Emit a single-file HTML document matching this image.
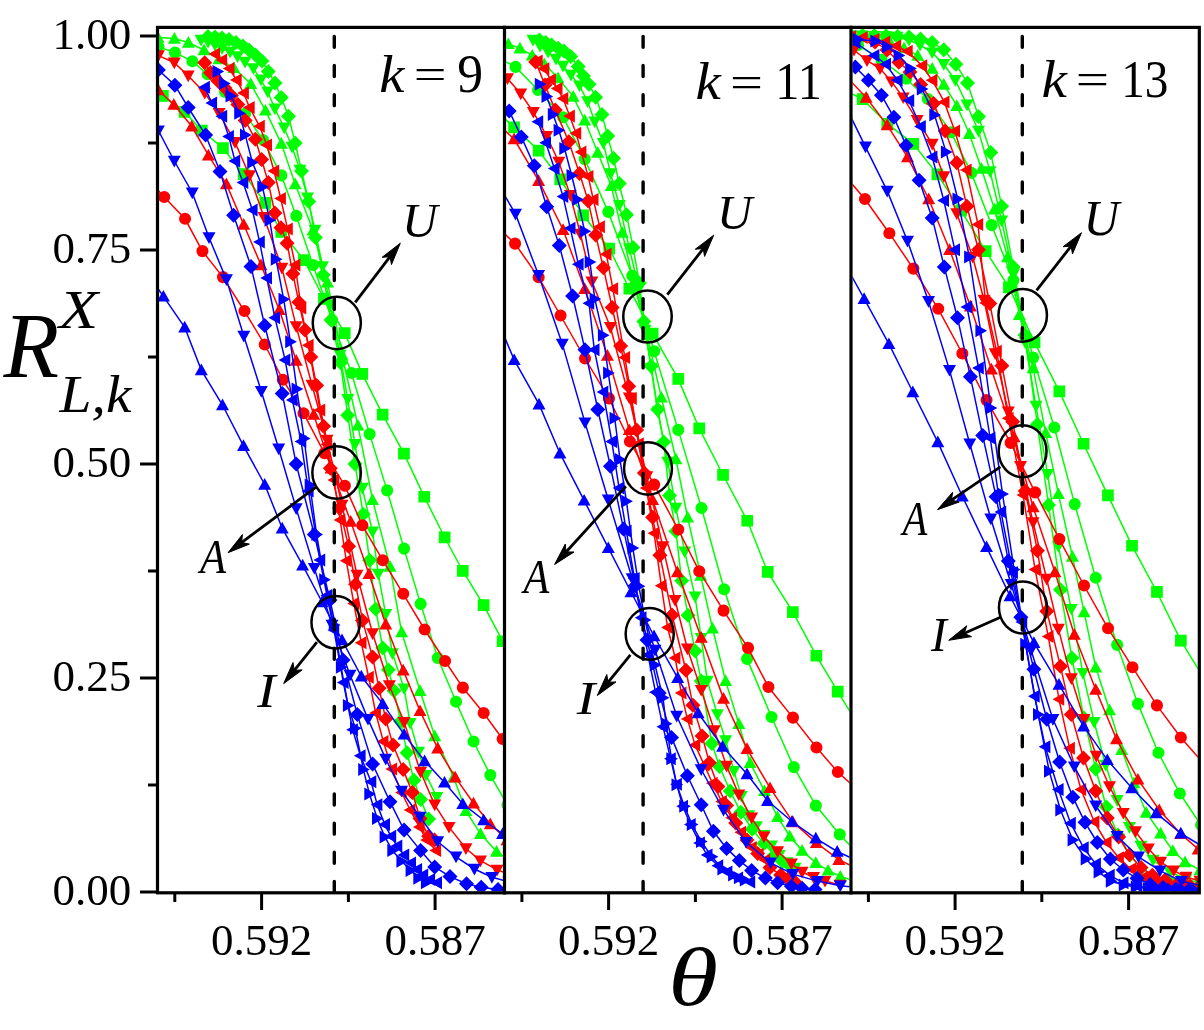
<!DOCTYPE html><html><head><meta charset="utf-8"><style>html,body{margin:0;padding:0;background:#fff;}svg{display:block;}</style></head><body>
<svg width="1204" height="1030" viewBox="0 0 1204 1030">
<rect width="100%" height="100%" fill="#fff"/>
<defs>
<clipPath id="c0"><rect x="159.0" y="28.9" width="344.0" height="862.4"/></clipPath>
<clipPath id="c1"><rect x="506.0" y="28.9" width="343.5" height="862.4"/></clipPath>
<clipPath id="c2"><rect x="852.5" y="28.9" width="345.29999999999995" height="862.4"/></clipPath>
</defs>
<g clip-path="url(#c0)" fill="#00ff00">
<path d="M142.5 84.0 162.8 95.9 184.5 111.8 201.8 130.6 222.9 148.0 243.7 174.0 265.4 202.9 281.3 231.8 304.0 260.0 324.0 299.0 344.8 333.1 362.3 373.9 382.7 414.6 404.0 453.7 424.3 496.8 444.7 537.5 462.8 571.0 483.6 605.1 502.6 641.2 522.0 675.0" fill="none" stroke="#00ff00" stroke-width="1.5"/>
<path d="M136.7 78.2h11.7v11.7h-11.7zM157.0 90.1h11.7v11.7h-11.7zM178.7 106.0h11.7v11.7h-11.7zM196.0 124.8h11.7v11.7h-11.7zM217.1 142.2h11.7v11.7h-11.7zM237.8 168.2h11.7v11.7h-11.7zM259.5 197.1h11.7v11.7h-11.7zM275.4 226.0h11.7v11.7h-11.7zM298.1 254.2h11.7v11.7h-11.7zM318.1 293.1h11.7v11.7h-11.7zM338.9 327.2h11.7v11.7h-11.7zM356.4 368.0h11.7v11.7h-11.7zM376.8 408.8h11.7v11.7h-11.7zM398.1 447.8h11.7v11.7h-11.7zM418.4 490.9h11.7v11.7h-11.7zM438.8 531.6h11.7v11.7h-11.7zM456.9 565.1h11.7v11.7h-11.7zM477.8 599.2h11.7v11.7h-11.7zM496.8 635.4h11.7v11.7h-11.7zM516.1 669.1h11.7v11.7h-11.7z"/>
<path d="M140.9 42.0 158.4 46.8 174.9 52.6 192.3 61.2 207.6 74.2 225.0 92.0 245.0 113.7 263.0 140.0 281.3 175.4 296.3 215.9 313.0 265.0 332.0 320.0 351.5 373.0 369.6 434.1 387.1 490.4 404.0 548.6 420.6 603.9 437.7 658.0 456.0 701.7 473.5 741.5 490.3 775.1 507.5 805.0" fill="none" stroke="#00ff00" stroke-width="1.5"/>
<path d="M134.9 42.0a6.0 6.0 0 1 0 12.1 0a6.0 6.0 0 1 0 -12.1 0zM152.4 46.8a6.0 6.0 0 1 0 12.1 0a6.0 6.0 0 1 0 -12.1 0zM168.9 52.6a6.0 6.0 0 1 0 12.1 0a6.0 6.0 0 1 0 -12.1 0zM186.3 61.2a6.0 6.0 0 1 0 12.1 0a6.0 6.0 0 1 0 -12.1 0zM201.6 74.2a6.0 6.0 0 1 0 12.1 0a6.0 6.0 0 1 0 -12.1 0zM219.0 92.0a6.0 6.0 0 1 0 12.1 0a6.0 6.0 0 1 0 -12.1 0zM239.0 113.7a6.0 6.0 0 1 0 12.1 0a6.0 6.0 0 1 0 -12.1 0zM257.0 140.0a6.0 6.0 0 1 0 12.1 0a6.0 6.0 0 1 0 -12.1 0zM275.3 175.4a6.0 6.0 0 1 0 12.1 0a6.0 6.0 0 1 0 -12.1 0zM290.3 215.9a6.0 6.0 0 1 0 12.1 0a6.0 6.0 0 1 0 -12.1 0zM307.0 265.0a6.0 6.0 0 1 0 12.1 0a6.0 6.0 0 1 0 -12.1 0zM326.0 320.0a6.0 6.0 0 1 0 12.1 0a6.0 6.0 0 1 0 -12.1 0zM345.5 373.0a6.0 6.0 0 1 0 12.1 0a6.0 6.0 0 1 0 -12.1 0zM363.6 434.1a6.0 6.0 0 1 0 12.1 0a6.0 6.0 0 1 0 -12.1 0zM381.1 490.4a6.0 6.0 0 1 0 12.1 0a6.0 6.0 0 1 0 -12.1 0zM398.0 548.6a6.0 6.0 0 1 0 12.1 0a6.0 6.0 0 1 0 -12.1 0zM414.6 603.9a6.0 6.0 0 1 0 12.1 0a6.0 6.0 0 1 0 -12.1 0zM431.7 658.0a6.0 6.0 0 1 0 12.1 0a6.0 6.0 0 1 0 -12.1 0zM450.0 701.7a6.0 6.0 0 1 0 12.1 0a6.0 6.0 0 1 0 -12.1 0zM467.5 741.5a6.0 6.0 0 1 0 12.1 0a6.0 6.0 0 1 0 -12.1 0zM484.3 775.1a6.0 6.0 0 1 0 12.1 0a6.0 6.0 0 1 0 -12.1 0zM501.5 805.0a6.0 6.0 0 1 0 12.1 0a6.0 6.0 0 1 0 -12.1 0z"/>
<path d="M142.0 37.0 158.0 37.5 174.4 38.5 188.4 42.5 204.0 50.0 219.0 59.0 233.8 67.9 250.7 83.8 265.4 110.4 281.3 143.6 295.2 184.1 313.0 230.3 327.5 282.3 342.0 355.0 357.9 425.4 372.5 499.7 390.0 566.6 401.6 632.0 420.0 690.7 434.7 736.0 453.6 777.2 465.9 810.9 480.5 833.8 496.5 851.6 512.0 862.0" fill="none" stroke="#00ff00" stroke-width="1.5"/>
<path d="M142.0 30.5L148.5 42.2L135.5 42.2zM158.0 31.0L164.5 42.7L151.5 42.7zM174.4 32.0L180.9 43.7L167.9 43.7zM188.4 36.0L194.9 47.7L181.9 47.7zM204.0 43.5L210.5 55.2L197.5 55.2zM219.0 52.5L225.5 64.2L212.5 64.2zM233.8 61.4L240.3 73.1L227.3 73.1zM250.7 77.3L257.2 89.0L244.2 89.0zM265.4 103.9L271.9 115.6L258.9 115.6zM281.3 137.1L287.8 148.8L274.8 148.8zM295.2 177.6L301.7 189.3L288.7 189.3zM313.0 223.8L319.5 235.5L306.5 235.5zM327.5 275.8L334.0 287.5L321.0 287.5zM342.0 348.5L348.5 360.2L335.5 360.2zM357.9 418.9L364.4 430.6L351.4 430.6zM372.5 493.2L379.0 504.9L366.0 504.9zM390.0 560.1L396.5 571.8L383.5 571.8zM401.6 625.5L408.1 637.2L395.1 637.2zM420.0 684.2L426.5 695.9L413.5 695.9zM434.7 729.5L441.2 741.2L428.2 741.2zM453.6 770.7L460.1 782.4L447.1 782.4zM465.9 804.4L472.4 816.1L459.4 816.1zM480.5 827.3L487.0 839.0L474.0 839.0zM496.5 845.1L503.0 856.8L490.0 856.8zM512.0 855.5L518.5 867.2L505.5 867.2z"/>
<path d="M201.0 40.0 208.0 42.0 215.0 45.0 222.0 48.5 230.0 52.0 237.5 56.5 245.0 62.0 253.4 68.4 260.9 79.8 267.7 91.8 274.9 108.8 284.2 127.7 292.1 147.0 300.0 170.0 307.5 197.7 315.0 230.0 322.5 266.5 330.0 305.0 340.0 355.0 347.7 399.2 355.0 444.3 362.3 488.0 372.5 531.7 378.3 573.9 385.7 614.3 392.5 653.4 404.1 688.6 410.2 723.1 418.5 751.9 426.1 775.1 436.8 797.1" fill="none" stroke="#00ff00" stroke-width="1.5"/>
<path d="M201.0 46.5L207.5 34.8L194.5 34.8zM208.0 48.5L214.5 36.8L201.5 36.8zM215.0 51.5L221.5 39.8L208.5 39.8zM222.0 55.0L228.5 43.3L215.5 43.3zM230.0 58.5L236.5 46.8L223.5 46.8zM237.5 63.0L244.0 51.3L231.0 51.3zM245.0 68.5L251.5 56.8L238.5 56.8zM253.4 74.9L259.9 63.2L246.9 63.2zM260.9 86.3L267.4 74.6L254.4 74.6zM267.7 98.3L274.2 86.6L261.2 86.6zM274.9 115.3L281.4 103.6L268.4 103.6zM284.2 134.2L290.7 122.5L277.7 122.5zM292.1 153.5L298.6 141.8L285.6 141.8zM300.0 176.5L306.5 164.8L293.5 164.8zM307.5 204.2L314.0 192.5L301.0 192.5zM315.0 236.5L321.5 224.8L308.5 224.8zM322.5 273.0L329.0 261.3L316.0 261.3zM330.0 311.5L336.5 299.8L323.5 299.8zM340.0 361.5L346.5 349.8L333.5 349.8zM347.7 405.7L354.2 394.0L341.2 394.0zM355.0 450.8L361.5 439.1L348.5 439.1zM362.3 494.5L368.8 482.8L355.8 482.8zM372.5 538.2L379.0 526.5L366.0 526.5zM378.3 580.4L384.8 568.7L371.8 568.7zM385.7 620.8L392.2 609.1L379.2 609.1zM392.5 659.9L399.0 648.2L386.0 648.2zM404.1 695.1L410.6 683.4L397.6 683.4zM410.2 729.6L416.7 717.9L403.7 717.9zM418.5 758.4L425.0 746.7L412.0 746.7zM426.1 781.6L432.6 769.9L419.6 769.9zM436.8 803.6L443.3 791.9L430.3 791.9z"/>
<path d="M208.0 36.5 215.0 37.0 222.0 38.0 229.0 39.5 236.0 42.5 243.0 46.0 249.0 50.0 255.5 55.0 261.9 60.9 268.3 71.4 275.0 83.0 281.3 97.4 288.5 116.2 295.2 143.0 301.5 171.0 308.7 201.4 315.4 237.5 323.2 275.0 331.0 320.0 340.5 362.8 347.7 415.2 355.0 464.1 363.2 514.2 369.6 560.2 375.7 609.0 382.7 647.9 388.4 669.8 394.0 690.7 400.6 721.5 407.1 752.8 413.9 780.3 420.6 799.6 428.6 819.1" fill="none" stroke="#00ff00" stroke-width="1.5"/>
<path d="M208.0 29.0L215.5 36.5L208.0 44.0L200.5 36.5zM215.0 29.5L222.5 37.0L215.0 44.5L207.5 37.0zM222.0 30.5L229.5 38.0L222.0 45.5L214.5 38.0zM229.0 32.0L236.5 39.5L229.0 47.0L221.5 39.5zM236.0 35.0L243.5 42.5L236.0 50.0L228.5 42.5zM243.0 38.5L250.5 46.0L243.0 53.5L235.5 46.0zM249.0 42.5L256.5 50.0L249.0 57.5L241.5 50.0zM255.5 47.5L263.0 55.0L255.5 62.5L248.0 55.0zM261.9 53.4L269.4 60.9L261.9 68.4L254.4 60.9zM268.3 63.9L275.8 71.4L268.3 78.9L260.8 71.4zM275.0 75.5L282.5 83.0L275.0 90.5L267.5 83.0zM281.3 89.9L288.8 97.4L281.3 104.9L273.8 97.4zM288.5 108.7L296.0 116.2L288.5 123.7L281.0 116.2zM295.2 135.5L302.7 143.0L295.2 150.5L287.7 143.0zM301.5 163.5L309.0 171.0L301.5 178.5L294.0 171.0zM308.7 193.9L316.2 201.4L308.7 208.9L301.2 201.4zM315.4 230.0L322.9 237.5L315.4 245.0L307.9 237.5zM323.2 267.5L330.7 275.0L323.2 282.5L315.7 275.0zM331.0 312.5L338.5 320.0L331.0 327.5L323.5 320.0zM340.5 355.3L348.0 362.8L340.5 370.3L333.0 362.8zM347.7 407.7L355.2 415.2L347.7 422.7L340.2 415.2zM355.0 456.6L362.5 464.1L355.0 471.6L347.5 464.1zM363.2 506.7L370.7 514.2L363.2 521.7L355.7 514.2zM369.6 552.7L377.1 560.2L369.6 567.7L362.1 560.2zM375.7 601.5L383.2 609.0L375.7 616.5L368.2 609.0zM382.7 640.4L390.2 647.9L382.7 655.4L375.2 647.9zM388.4 662.4L395.8 669.8L388.4 677.3L380.9 669.8zM394.0 683.2L401.5 690.7L394.0 698.2L386.5 690.7zM400.6 714.1L408.0 721.5L400.6 729.0L393.1 721.5zM407.1 745.3L414.6 752.8L407.1 760.3L399.6 752.8zM413.9 772.8L421.4 780.3L413.9 787.8L406.4 780.3zM420.6 792.1L428.1 799.6L420.6 807.1L413.1 799.6zM428.6 811.6L436.1 819.1L428.6 826.6L421.1 819.1z"/>
</g>
<g clip-path="url(#c1)" fill="#00ff00">
<path d="M491.0 106.0 514.1 127.4 538.6 150.5 560.2 179.3 583.3 215.3 609.2 248.5 629.4 288.8 652.6 333.7 678.2 378.9 699.2 428.4 723.1 475.0 747.3 520.8 767.7 572.0 792.9 612.1 816.4 655.8 837.8 691.6 860.0 728.0" fill="none" stroke="#00ff00" stroke-width="1.5"/>
<path d="M485.1 100.2h11.7v11.7h-11.7zM508.2 121.6h11.7v11.7h-11.7zM532.8 144.7h11.7v11.7h-11.7zM554.4 173.5h11.7v11.7h-11.7zM577.4 209.5h11.7v11.7h-11.7zM603.4 242.7h11.7v11.7h-11.7zM623.5 282.9h11.7v11.7h-11.7zM646.8 327.8h11.7v11.7h-11.7zM672.4 373.0h11.7v11.7h-11.7zM693.4 422.5h11.7v11.7h-11.7zM717.2 469.1h11.7v11.7h-11.7zM741.4 514.9h11.7v11.7h-11.7zM761.9 566.1h11.7v11.7h-11.7zM787.0 606.2h11.7v11.7h-11.7zM810.5 649.9h11.7v11.7h-11.7zM831.9 685.8h11.7v11.7h-11.7zM854.1 722.1h11.7v11.7h-11.7z"/>
<path d="M492.5 55.0 515.5 66.9 538.0 90.0 563.1 117.3 584.7 159.1 608.3 211.9 632.2 275.8 654.1 351.2 678.2 429.9 701.5 508.0 724.1 589.2 747.0 658.9 771.5 717.0 793.8 767.1 815.8 805.6 839.7 834.4 862.0 858.0" fill="none" stroke="#00ff00" stroke-width="1.5"/>
<path d="M486.5 55.0a6.0 6.0 0 1 0 12.1 0a6.0 6.0 0 1 0 -12.1 0zM509.5 66.9a6.0 6.0 0 1 0 12.1 0a6.0 6.0 0 1 0 -12.1 0zM532.0 90.0a6.0 6.0 0 1 0 12.1 0a6.0 6.0 0 1 0 -12.1 0zM557.1 117.3a6.0 6.0 0 1 0 12.1 0a6.0 6.0 0 1 0 -12.1 0zM578.7 159.1a6.0 6.0 0 1 0 12.1 0a6.0 6.0 0 1 0 -12.1 0zM602.3 211.9a6.0 6.0 0 1 0 12.1 0a6.0 6.0 0 1 0 -12.1 0zM626.2 275.8a6.0 6.0 0 1 0 12.1 0a6.0 6.0 0 1 0 -12.1 0zM648.1 351.2a6.0 6.0 0 1 0 12.1 0a6.0 6.0 0 1 0 -12.1 0zM672.2 429.9a6.0 6.0 0 1 0 12.1 0a6.0 6.0 0 1 0 -12.1 0zM695.5 508.0a6.0 6.0 0 1 0 12.1 0a6.0 6.0 0 1 0 -12.1 0zM718.1 589.2a6.0 6.0 0 1 0 12.1 0a6.0 6.0 0 1 0 -12.1 0zM741.0 658.9a6.0 6.0 0 1 0 12.1 0a6.0 6.0 0 1 0 -12.1 0zM765.5 717.0a6.0 6.0 0 1 0 12.1 0a6.0 6.0 0 1 0 -12.1 0zM787.8 767.1a6.0 6.0 0 1 0 12.1 0a6.0 6.0 0 1 0 -12.1 0zM809.8 805.6a6.0 6.0 0 1 0 12.1 0a6.0 6.0 0 1 0 -12.1 0zM833.7 834.4a6.0 6.0 0 1 0 12.1 0a6.0 6.0 0 1 0 -12.1 0zM856.0 858.0a6.0 6.0 0 1 0 12.1 0a6.0 6.0 0 1 0 -12.1 0z"/>
<path d="M496.0 40.0 508.3 43.9 519.9 48.2 532.2 55.4 544.3 64.0 558.0 78.0 573.2 96.6 584.7 120.2 597.7 152.5 611.2 185.9 622.2 232.6 633.7 281.6 647.0 335.0 661.3 397.2 675.9 459.0 687.6 517.3 700.7 575.5 712.5 628.3 725.6 680.9 738.8 723.7 750.1 762.8 764.5 790.9 777.6 816.9 789.8 836.2 802.1 850.6 815.8 862.8 828.1 870.4 840.3 876.5 855.0 881.0" fill="none" stroke="#00ff00" stroke-width="1.5"/>
<path d="M496.0 33.5L502.5 45.2L489.5 45.2zM508.3 37.4L514.8 49.1L501.8 49.1zM519.9 41.7L526.4 53.4L513.4 53.4zM532.2 48.9L538.7 60.6L525.7 60.6zM544.3 57.5L550.8 69.2L537.8 69.2zM558.0 71.5L564.5 83.2L551.5 83.2zM573.2 90.1L579.7 101.8L566.7 101.8zM584.7 113.7L591.2 125.4L578.2 125.4zM597.7 146.0L604.2 157.7L591.2 157.7zM611.2 179.4L617.7 191.1L604.7 191.1zM622.2 226.1L628.7 237.8L615.7 237.8zM633.7 275.1L640.2 286.8L627.2 286.8zM647.0 328.5L653.5 340.2L640.5 340.2zM661.3 390.7L667.8 402.4L654.8 402.4zM675.9 452.5L682.4 464.2L669.4 464.2zM687.6 510.8L694.1 522.5L681.1 522.5zM700.7 569.0L707.2 580.7L694.2 580.7zM712.5 621.8L719.0 633.5L706.0 633.5zM725.6 674.4L732.1 686.1L719.1 686.1zM738.8 717.2L745.3 728.9L732.3 728.9zM750.1 756.3L756.6 768.0L743.6 768.0zM764.5 784.4L771.0 796.1L758.0 796.1zM777.6 810.4L784.1 822.1L771.1 822.1zM789.8 829.7L796.3 841.4L783.3 841.4zM802.1 844.1L808.6 855.8L795.6 855.8zM815.8 856.3L822.3 868.0L809.3 868.0zM828.1 863.9L834.6 875.6L821.6 875.6zM840.3 870.0L846.8 881.7L833.8 881.7zM855.0 874.5L861.5 886.2L848.5 886.2z"/>
<path d="M533.0 40.0 540.0 46.0 548.0 52.0 556.0 59.0 563.0 66.0 571.0 75.0 579.5 85.6 587.6 101.5 594.8 121.7 603.4 143.3 610.6 173.5 619.3 205.2 629.4 248.5 638.9 288.8 645.0 330.0 651.1 368.1 657.8 411.8 667.8 461.9 675.9 507.9 684.7 551.7 695.1 596.8 701.2 638.1 707.3 680.9 717.4 714.5 725.6 740.5 733.9 771.1 741.2 796.1 748.6 815.4 756.2 826.4 763.9 835.3 771.5 845.8 779.2 855.1 787.1 862.4 795.0 868.0" fill="none" stroke="#00ff00" stroke-width="1.5"/>
<path d="M533.0 46.5L539.5 34.8L526.5 34.8zM540.0 52.5L546.5 40.8L533.5 40.8zM548.0 58.5L554.5 46.8L541.5 46.8zM556.0 65.5L562.5 53.8L549.5 53.8zM563.0 72.5L569.5 60.8L556.5 60.8zM571.0 81.5L577.5 69.8L564.5 69.8zM579.5 92.1L586.0 80.4L573.0 80.4zM587.6 108.0L594.1 96.3L581.1 96.3zM594.8 128.2L601.3 116.5L588.3 116.5zM603.4 149.8L609.9 138.1L596.9 138.1zM610.6 180.0L617.1 168.3L604.1 168.3zM619.3 211.7L625.8 200.0L612.8 200.0zM629.4 255.0L635.9 243.3L622.9 243.3zM638.9 295.3L645.4 283.6L632.4 283.6zM645.0 336.5L651.5 324.8L638.5 324.8zM651.1 374.6L657.6 362.9L644.6 362.9zM657.8 418.3L664.3 406.6L651.3 406.6zM667.8 468.4L674.3 456.7L661.3 456.7zM675.9 514.4L682.4 502.7L669.4 502.7zM684.7 558.2L691.2 546.5L678.2 546.5zM695.1 603.3L701.6 591.6L688.6 591.6zM701.2 644.6L707.7 632.9L694.7 632.9zM707.3 687.4L713.8 675.7L700.8 675.7zM717.4 721.0L723.9 709.3L710.9 709.3zM725.6 747.0L732.1 735.3L719.1 735.3zM733.9 777.6L740.4 765.9L727.4 765.9zM741.2 802.6L747.8 790.9L734.8 790.9zM748.6 821.9L755.1 810.2L742.1 810.2zM756.2 832.9L762.8 821.2L749.8 821.2zM763.9 841.8L770.4 830.1L757.4 830.1zM771.5 852.3L778.0 840.6L765.0 840.6zM779.2 861.6L785.7 849.9L772.7 849.9zM787.1 868.9L793.6 857.2L780.6 857.2zM795.0 874.5L801.5 862.8L788.5 862.8z"/>
<path d="M539.5 40.0 545.8 42.5 551.6 45.0 558.2 48.3 564.0 51.0 570.7 56.6 578.2 66.5 583.5 76.0 589.0 84.2 595.6 97.2 602.0 114.5 607.7 136.1 613.5 158.3 619.3 183.6 626.5 214.7 633.1 247.6 639.4 283.0 643.9 321.5 651.1 366.3 657.8 409.5 663.7 442.1 669.5 495.4 675.9 531.3 681.7 580.8 688.0 615.2 695.1 650.9 701.2 680.9 711.9 743.6 719.5 766.5 730.2 791.0 740.9 812.3 752.2 829.2 763.9 843.5 774.6 855.1 782.3 861.3 790.0 866.0" fill="none" stroke="#00ff00" stroke-width="1.5"/>
<path d="M539.5 32.5L547.0 40.0L539.5 47.5L532.0 40.0zM545.8 35.0L553.3 42.5L545.8 50.0L538.3 42.5zM551.6 37.5L559.1 45.0L551.6 52.5L544.1 45.0zM558.2 40.8L565.7 48.3L558.2 55.8L550.7 48.3zM564.0 43.5L571.5 51.0L564.0 58.5L556.5 51.0zM570.7 49.1L578.2 56.6L570.7 64.1L563.2 56.6zM578.2 59.0L585.7 66.5L578.2 74.0L570.7 66.5zM583.5 68.5L591.0 76.0L583.5 83.5L576.0 76.0zM589.0 76.7L596.5 84.2L589.0 91.7L581.5 84.2zM595.6 89.7L603.1 97.2L595.6 104.7L588.1 97.2zM602.0 107.0L609.5 114.5L602.0 122.0L594.5 114.5zM607.7 128.6L615.2 136.1L607.7 143.6L600.2 136.1zM613.5 150.8L621.0 158.3L613.5 165.8L606.0 158.3zM619.3 176.1L626.8 183.6L619.3 191.1L611.8 183.6zM626.5 207.2L634.0 214.7L626.5 222.2L619.0 214.7zM633.1 240.1L640.6 247.6L633.1 255.1L625.6 247.6zM639.4 275.5L646.9 283.0L639.4 290.5L631.9 283.0zM643.9 314.0L651.4 321.5L643.9 329.0L636.4 321.5zM651.1 358.8L658.6 366.3L651.1 373.8L643.6 366.3zM657.8 402.0L665.3 409.5L657.8 417.0L650.3 409.5zM663.7 434.6L671.2 442.1L663.7 449.6L656.2 442.1zM669.5 487.9L677.0 495.4L669.5 502.9L662.0 495.4zM675.9 523.8L683.4 531.3L675.9 538.8L668.4 531.3zM681.7 573.3L689.2 580.8L681.7 588.3L674.2 580.8zM688.0 607.7L695.5 615.2L688.0 622.7L680.5 615.2zM695.1 643.4L702.6 650.9L695.1 658.4L687.6 650.9zM701.2 673.4L708.7 680.9L701.2 688.4L693.7 680.9zM711.9 736.1L719.4 743.6L711.9 751.1L704.4 743.6zM719.5 759.0L727.0 766.5L719.5 774.0L712.0 766.5zM730.2 783.5L737.7 791.0L730.2 798.5L722.7 791.0zM740.9 804.8L748.4 812.3L740.9 819.8L733.4 812.3zM752.2 821.7L759.7 829.2L752.2 836.7L744.7 829.2zM763.9 836.0L771.4 843.5L763.9 851.0L756.4 843.5zM774.6 847.6L782.1 855.1L774.6 862.6L767.1 855.1zM782.3 853.8L789.8 861.3L782.3 868.8L774.8 861.3zM790.0 858.5L797.5 866.0L790.0 873.5L782.5 866.0z"/>
</g>
<g clip-path="url(#c2)" fill="#00ff00">
<path d="M838.0 87.0 862.6 99.0 887.2 123.7 913.3 143.9 937.4 174.4 961.1 210.6 985.8 251.2 1009.0 287.4 1034.5 342.4 1059.3 391.4 1083.5 443.8 1107.9 495.4 1132.1 545.8 1156.9 592.0 1180.8 640.6 1205.0 680.0" fill="none" stroke="#00ff00" stroke-width="1.5"/>
<path d="M832.1 81.2h11.7v11.7h-11.7zM856.8 93.2h11.7v11.7h-11.7zM881.4 117.9h11.7v11.7h-11.7zM907.4 138.1h11.7v11.7h-11.7zM931.5 168.6h11.7v11.7h-11.7zM955.2 204.8h11.7v11.7h-11.7zM979.9 245.3h11.7v11.7h-11.7zM1003.1 281.5h11.7v11.7h-11.7zM1028.7 336.5h11.7v11.7h-11.7zM1053.5 385.5h11.7v11.7h-11.7zM1077.7 437.9h11.7v11.7h-11.7zM1102.1 489.5h11.7v11.7h-11.7zM1126.2 539.9h11.7v11.7h-11.7zM1151.1 586.1h11.7v11.7h-11.7zM1175.0 634.8h11.7v11.7h-11.7zM1199.2 674.1h11.7v11.7h-11.7z"/>
<path d="M858.0 45.0 881.4 59.9 906.1 78.7 927.8 99.0 951.0 132.3 971.3 172.9 991.6 225.1 1013.3 280.2 1033.1 357.6 1054.3 427.5 1074.7 504.1 1095.7 577.8 1117.1 644.9 1137.9 703.9 1158.4 752.8 1179.8 793.5 1201.0 825.0" fill="none" stroke="#00ff00" stroke-width="1.5"/>
<path d="M852.0 45.0a6.0 6.0 0 1 0 12.1 0a6.0 6.0 0 1 0 -12.1 0zM875.4 59.9a6.0 6.0 0 1 0 12.1 0a6.0 6.0 0 1 0 -12.1 0zM900.1 78.7a6.0 6.0 0 1 0 12.1 0a6.0 6.0 0 1 0 -12.1 0zM921.8 99.0a6.0 6.0 0 1 0 12.1 0a6.0 6.0 0 1 0 -12.1 0zM945.0 132.3a6.0 6.0 0 1 0 12.1 0a6.0 6.0 0 1 0 -12.1 0zM965.3 172.9a6.0 6.0 0 1 0 12.1 0a6.0 6.0 0 1 0 -12.1 0zM985.6 225.1a6.0 6.0 0 1 0 12.1 0a6.0 6.0 0 1 0 -12.1 0zM1007.3 280.2a6.0 6.0 0 1 0 12.1 0a6.0 6.0 0 1 0 -12.1 0zM1027.1 357.6a6.0 6.0 0 1 0 12.1 0a6.0 6.0 0 1 0 -12.1 0zM1048.3 427.5a6.0 6.0 0 1 0 12.1 0a6.0 6.0 0 1 0 -12.1 0zM1068.7 504.1a6.0 6.0 0 1 0 12.1 0a6.0 6.0 0 1 0 -12.1 0zM1089.7 577.8a6.0 6.0 0 1 0 12.1 0a6.0 6.0 0 1 0 -12.1 0zM1111.1 644.9a6.0 6.0 0 1 0 12.1 0a6.0 6.0 0 1 0 -12.1 0zM1131.9 703.9a6.0 6.0 0 1 0 12.1 0a6.0 6.0 0 1 0 -12.1 0zM1152.4 752.8a6.0 6.0 0 1 0 12.1 0a6.0 6.0 0 1 0 -12.1 0zM1173.8 793.5a6.0 6.0 0 1 0 12.1 0a6.0 6.0 0 1 0 -12.1 0zM1195.0 825.0a6.0 6.0 0 1 0 12.1 0a6.0 6.0 0 1 0 -12.1 0z"/>
<path d="M848.0 35.0 861.0 36.0 875.0 38.0 890.0 42.0 904.0 48.0 917.7 55.5 932.2 68.6 943.8 84.5 956.8 105.7 969.3 133.8 981.4 168.6 994.5 209.2 1007.5 257.0 1019.4 314.8 1033.1 368.1 1045.6 432.7 1058.4 493.9 1072.4 556.5 1084.1 612.1 1095.7 667.2 1109.5 710.0 1121.7 749.8 1134.0 783.0 1146.2 812.5 1160.6 833.3 1172.8 850.7 1185.0 862.0 1200.0 870.0" fill="none" stroke="#00ff00" stroke-width="1.5"/>
<path d="M848.0 28.5L854.5 40.2L841.5 40.2zM861.0 29.5L867.5 41.2L854.5 41.2zM875.0 31.5L881.5 43.2L868.5 43.2zM890.0 35.5L896.5 47.2L883.5 47.2zM904.0 41.5L910.5 53.2L897.5 53.2zM917.7 49.0L924.2 60.7L911.2 60.7zM932.2 62.1L938.7 73.8L925.7 73.8zM943.8 78.0L950.3 89.7L937.3 89.7zM956.8 99.2L963.3 110.9L950.3 110.9zM969.3 127.3L975.8 139.0L962.8 139.0zM981.4 162.1L987.9 173.8L974.9 173.8zM994.5 202.7L1001.0 214.4L988.0 214.4zM1007.5 250.5L1014.0 262.2L1001.0 262.2zM1019.4 308.3L1025.9 320.0L1012.9 320.0zM1033.1 361.6L1039.6 373.3L1026.6 373.3zM1045.6 426.2L1052.1 437.9L1039.1 437.9zM1058.4 487.4L1064.9 499.1L1051.9 499.1zM1072.4 550.0L1078.9 561.7L1065.9 561.7zM1084.1 605.6L1090.6 617.3L1077.6 617.3zM1095.7 660.7L1102.2 672.4L1089.2 672.4zM1109.5 703.5L1116.0 715.2L1103.0 715.2zM1121.7 743.3L1128.2 755.0L1115.2 755.0zM1134.0 776.5L1140.5 788.2L1127.5 788.2zM1146.2 806.0L1152.7 817.7L1139.7 817.7zM1160.6 826.8L1167.1 838.5L1154.1 838.5zM1172.8 844.2L1179.3 855.9L1166.3 855.9zM1185.0 855.5L1191.5 867.2L1178.5 867.2zM1200.0 863.5L1206.5 875.2L1193.5 875.2z"/>
<path d="M851.0 35.6 862.0 35.8 874.0 36.1 886.0 36.5 897.0 37.0 909.0 40.0 920.0 45.0 932.2 52.6 943.8 64.2 955.3 80.2 967.0 104.8 978.5 130.9 990.1 171.5 1001.7 220.8 1013.3 274.4 1025.2 342.4 1036.0 405.9 1047.6 474.1 1058.4 546.3 1071.3 609.1 1082.9 673.3 1094.2 722.2 1105.6 765.0 1117.1 800.3 1129.4 827.2 1141.0 846.0 1153.0 860.0 1170.0 872.0 1186.0 879.0 1200.0 883.0" fill="none" stroke="#00ff00" stroke-width="1.5"/>
<path d="M851.0 42.1L857.5 30.4L844.5 30.4zM862.0 42.3L868.5 30.6L855.5 30.6zM874.0 42.6L880.5 30.9L867.5 30.9zM886.0 43.0L892.5 31.3L879.5 31.3zM897.0 43.5L903.5 31.8L890.5 31.8zM909.0 46.5L915.5 34.8L902.5 34.8zM920.0 51.5L926.5 39.8L913.5 39.8zM932.2 59.1L938.7 47.4L925.7 47.4zM943.8 70.7L950.3 59.0L937.3 59.0zM955.3 86.7L961.8 75.0L948.8 75.0zM967.0 111.3L973.5 99.6L960.5 99.6zM978.5 137.4L985.0 125.7L972.0 125.7zM990.1 178.0L996.6 166.3L983.6 166.3zM1001.7 227.3L1008.2 215.6L995.2 215.6zM1013.3 280.9L1019.8 269.2L1006.8 269.2zM1025.2 348.9L1031.7 337.2L1018.7 337.2zM1036.0 412.4L1042.5 400.7L1029.5 400.7zM1047.6 480.6L1054.1 468.9L1041.1 468.9zM1058.4 552.8L1064.9 541.1L1051.9 541.1zM1071.3 615.6L1077.8 603.9L1064.8 603.9zM1082.9 679.8L1089.4 668.1L1076.4 668.1zM1094.2 728.7L1100.7 717.0L1087.7 717.0zM1105.6 771.5L1112.1 759.8L1099.1 759.8zM1117.1 806.8L1123.6 795.1L1110.6 795.1zM1129.4 833.7L1135.9 822.0L1122.9 822.0zM1141.0 852.5L1147.5 840.8L1134.5 840.8zM1153.0 866.5L1159.5 854.8L1146.5 854.8zM1170.0 878.5L1176.5 866.8L1163.5 866.8zM1186.0 885.5L1192.5 873.8L1179.5 873.8zM1200.0 889.5L1206.5 877.8L1193.5 877.8z"/>
<path d="M851.0 35.5 862.6 35.5 874.3 35.6 886.0 35.9 897.5 36.4 909.0 37.0 920.5 39.0 932.2 42.5 943.8 49.7 955.9 64.2 967.5 83.1 978.5 116.4 990.7 152.6 1001.7 206.3 1013.3 267.1 1025.0 335.0 1037.4 424.6 1048.5 505.0 1060.5 589.8 1071.9 658.0 1084.0 718.0 1095.7 769.0 1106.4 807.0 1118.0 835.0 1130.0 855.0 1141.0 868.0 1153.0 876.0 1170.0 882.0 1186.0 885.0 1200.0 887.0" fill="none" stroke="#00ff00" stroke-width="1.5"/>
<path d="M851.0 28.0L858.5 35.5L851.0 43.0L843.5 35.5zM862.6 28.0L870.1 35.5L862.6 43.0L855.1 35.5zM874.3 28.1L881.8 35.6L874.3 43.1L866.8 35.6zM886.0 28.4L893.5 35.9L886.0 43.4L878.5 35.9zM897.5 28.9L905.0 36.4L897.5 43.9L890.0 36.4zM909.0 29.5L916.5 37.0L909.0 44.5L901.5 37.0zM920.5 31.5L928.0 39.0L920.5 46.5L913.0 39.0zM932.2 35.0L939.7 42.5L932.2 50.0L924.7 42.5zM943.8 42.2L951.3 49.7L943.8 57.2L936.3 49.7zM955.9 56.7L963.4 64.2L955.9 71.7L948.4 64.2zM967.5 75.6L975.0 83.1L967.5 90.6L960.0 83.1zM978.5 108.9L986.0 116.4L978.5 123.9L971.0 116.4zM990.7 145.1L998.2 152.6L990.7 160.1L983.2 152.6zM1001.7 198.8L1009.2 206.3L1001.7 213.8L994.2 206.3zM1013.3 259.6L1020.8 267.1L1013.3 274.6L1005.8 267.1zM1025.0 327.5L1032.5 335.0L1025.0 342.5L1017.5 335.0zM1037.4 417.1L1044.9 424.6L1037.4 432.1L1029.9 424.6zM1048.5 497.5L1056.0 505.0L1048.5 512.5L1041.0 505.0zM1060.5 582.3L1068.0 589.8L1060.5 597.3L1053.0 589.8zM1071.9 650.5L1079.4 658.0L1071.9 665.5L1064.4 658.0zM1084.0 710.5L1091.5 718.0L1084.0 725.5L1076.5 718.0zM1095.7 761.5L1103.2 769.0L1095.7 776.5L1088.2 769.0zM1106.4 799.5L1113.9 807.0L1106.4 814.5L1098.9 807.0zM1118.0 827.5L1125.5 835.0L1118.0 842.5L1110.5 835.0zM1130.0 847.5L1137.5 855.0L1130.0 862.5L1122.5 855.0zM1141.0 860.5L1148.5 868.0L1141.0 875.5L1133.5 868.0zM1153.0 868.5L1160.5 876.0L1153.0 883.5L1145.5 876.0zM1170.0 874.5L1177.5 882.0L1170.0 889.5L1162.5 882.0zM1186.0 877.5L1193.5 885.0L1186.0 892.5L1178.5 885.0zM1200.0 879.5L1207.5 887.0L1200.0 894.5L1192.5 887.0z"/>
</g>
<g clip-path="url(#c0)" fill="#ff0000">
<path d="M144.0 175.0 164.2 197.0 185.0 218.8 202.4 251.1 222.9 277.1 244.4 311.0 264.7 344.5 282.8 379.7 303.5 413.2 324.4 453.1 344.8 485.7 362.3 525.3 382.7 560.2 403.2 593.8 424.6 629.5 445.0 661.0 462.8 687.6 483.6 713.0 502.6 739.0 522.0 762.0" fill="none" stroke="#ff0000" stroke-width="1.5"/>
<path d="M138.0 175.0a6.0 6.0 0 1 0 12.1 0a6.0 6.0 0 1 0 -12.1 0zM158.2 197.0a6.0 6.0 0 1 0 12.1 0a6.0 6.0 0 1 0 -12.1 0zM179.0 218.8a6.0 6.0 0 1 0 12.1 0a6.0 6.0 0 1 0 -12.1 0zM196.4 251.1a6.0 6.0 0 1 0 12.1 0a6.0 6.0 0 1 0 -12.1 0zM216.9 277.1a6.0 6.0 0 1 0 12.1 0a6.0 6.0 0 1 0 -12.1 0zM238.4 311.0a6.0 6.0 0 1 0 12.1 0a6.0 6.0 0 1 0 -12.1 0zM258.7 344.5a6.0 6.0 0 1 0 12.1 0a6.0 6.0 0 1 0 -12.1 0zM276.8 379.7a6.0 6.0 0 1 0 12.1 0a6.0 6.0 0 1 0 -12.1 0zM297.5 413.2a6.0 6.0 0 1 0 12.1 0a6.0 6.0 0 1 0 -12.1 0zM318.4 453.1a6.0 6.0 0 1 0 12.1 0a6.0 6.0 0 1 0 -12.1 0zM338.8 485.7a6.0 6.0 0 1 0 12.1 0a6.0 6.0 0 1 0 -12.1 0zM356.3 525.3a6.0 6.0 0 1 0 12.1 0a6.0 6.0 0 1 0 -12.1 0zM376.7 560.2a6.0 6.0 0 1 0 12.1 0a6.0 6.0 0 1 0 -12.1 0zM397.2 593.8a6.0 6.0 0 1 0 12.1 0a6.0 6.0 0 1 0 -12.1 0zM418.6 629.5a6.0 6.0 0 1 0 12.1 0a6.0 6.0 0 1 0 -12.1 0zM439.0 661.0a6.0 6.0 0 1 0 12.1 0a6.0 6.0 0 1 0 -12.1 0zM456.8 687.6a6.0 6.0 0 1 0 12.1 0a6.0 6.0 0 1 0 -12.1 0zM477.6 713.0a6.0 6.0 0 1 0 12.1 0a6.0 6.0 0 1 0 -12.1 0zM496.6 739.0a6.0 6.0 0 1 0 12.1 0a6.0 6.0 0 1 0 -12.1 0zM516.0 762.0a6.0 6.0 0 1 0 12.1 0a6.0 6.0 0 1 0 -12.1 0z"/>
<path d="M141.0 76.0 158.4 90.1 173.8 104.6 191.7 126.3 208.4 155.2 226.4 184.1 243.7 224.5 261.0 265.0 279.3 309.8 296.2 360.5 313.7 414.6 331.1 468.2 350.7 521.5 369.0 573.9 385.7 624.3 403.2 670.2 420.0 710.9 437.7 748.2 455.2 777.2 473.5 803.2 490.3 824.0 507.0 840.0" fill="none" stroke="#ff0000" stroke-width="1.5"/>
<path d="M141.0 69.5L147.5 81.2L134.5 81.2zM158.4 83.6L164.9 95.3L151.9 95.3zM173.8 98.1L180.3 109.8L167.3 109.8zM191.7 119.8L198.2 131.5L185.2 131.5zM208.4 148.7L214.9 160.4L201.9 160.4zM226.4 177.6L232.9 189.3L219.9 189.3zM243.7 218.0L250.2 229.7L237.2 229.7zM261.0 258.5L267.5 270.2L254.5 270.2zM279.3 303.3L285.8 315.0L272.8 315.0zM296.2 354.0L302.7 365.7L289.7 365.7zM313.7 408.1L320.2 419.8L307.2 419.8zM331.1 461.7L337.6 473.4L324.6 473.4zM350.7 515.0L357.2 526.7L344.2 526.7zM369.0 567.4L375.5 579.1L362.5 579.1zM385.7 617.8L392.2 629.5L379.2 629.5zM403.2 663.7L409.7 675.4L396.7 675.4zM420.0 704.4L426.5 716.1L413.5 716.1zM437.7 741.7L444.2 753.4L431.2 753.4zM455.2 770.7L461.7 782.4L448.7 782.4zM473.5 796.7L480.0 808.4L467.0 808.4zM490.3 817.5L496.8 829.2L483.8 829.2zM507.0 833.5L513.5 845.2L500.5 845.2z"/>
<path d="M142.0 48.0 158.4 55.5 174.3 62.7 188.2 75.7 204.7 93.0 219.1 113.3 235.0 142.2 249.5 175.4 264.0 217.3 281.9 267.9 296.2 326.4 312.0 385.0 327.0 440.0 342.0 505.0 357.0 575.0 372.6 633.5 389.4 685.5 404.1 722.2 420.6 772.0 434.7 804.8 449.0 827.1 465.9 848.5 480.5 860.7 497.1 869.9 512.0 875.0" fill="none" stroke="#ff0000" stroke-width="1.5"/>
<path d="M142.0 54.5L148.5 42.8L135.5 42.8zM158.4 62.0L164.9 50.3L151.9 50.3zM174.3 69.2L180.8 57.5L167.8 57.5zM188.2 82.2L194.7 70.5L181.7 70.5zM204.7 99.5L211.2 87.8L198.2 87.8zM219.1 119.8L225.6 108.1L212.6 108.1zM235.0 148.7L241.5 137.0L228.5 137.0zM249.5 181.9L256.0 170.2L243.0 170.2zM264.0 223.8L270.5 212.1L257.5 212.1zM281.9 274.4L288.4 262.7L275.4 262.7zM296.2 332.9L302.7 321.2L289.7 321.2zM312.0 391.5L318.5 379.8L305.5 379.8zM327.0 446.5L333.5 434.8L320.5 434.8zM342.0 511.5L348.5 499.8L335.5 499.8zM357.0 581.5L363.5 569.8L350.5 569.8zM372.6 640.0L379.1 628.3L366.1 628.3zM389.4 692.0L395.9 680.3L382.9 680.3zM404.1 728.7L410.6 717.0L397.6 717.0zM420.6 778.5L427.1 766.8L414.1 766.8zM434.7 811.3L441.2 799.6L428.2 799.6zM449.0 833.6L455.5 821.9L442.5 821.9zM465.9 855.0L472.4 843.3L459.4 843.3zM480.5 867.2L487.0 855.5L474.0 855.5zM497.1 876.4L503.6 864.7L490.6 864.7zM512.0 881.5L518.5 869.8L505.5 869.8z"/>
<path d="M204.7 62.7 210.5 72.8 217.8 80.8 225.0 88.0 231.4 95.5 237.9 104.6 245.2 120.5 255.3 139.3 261.6 159.5 268.3 182.6 274.9 213.0 281.0 227.8 287.1 243.3 292.8 273.7 298.9 302.3 305.0 330.0 310.8 356.9 316.6 385.5 323.6 426.3 330.3 468.2 339.5 508.3 348.6 546.3 355.6 584.2 362.5 620.4 372.6 657.1 379.1 688.3 385.7 719.1 393.1 745.1 403.2 769.6 412.3 792.5 420.0 818.5 428.6 836.3 434.5 840.0" fill="none" stroke="#ff0000" stroke-width="1.5"/>
<path d="M204.7 55.2L212.2 62.7L204.7 70.2L197.2 62.7zM210.5 65.3L218.0 72.8L210.5 80.3L203.0 72.8zM217.8 73.3L225.2 80.8L217.8 88.2L210.3 80.8zM225.0 80.5L232.5 88.0L225.0 95.5L217.5 88.0zM231.4 88.0L238.9 95.5L231.4 103.0L224.0 95.5zM237.9 97.1L245.4 104.6L237.9 112.1L230.4 104.6zM245.2 113.0L252.7 120.5L245.2 128.0L237.7 120.5zM255.3 131.8L262.8 139.3L255.3 146.8L247.8 139.3zM261.6 152.0L269.1 159.5L261.6 167.0L254.1 159.5zM268.3 175.1L275.8 182.6L268.3 190.1L260.8 182.6zM274.9 205.5L282.4 213.0L274.9 220.5L267.4 213.0zM281.0 220.3L288.5 227.8L281.0 235.3L273.5 227.8zM287.1 235.8L294.6 243.3L287.1 250.8L279.6 243.3zM292.8 266.2L300.3 273.7L292.8 281.2L285.3 273.7zM298.9 294.8L306.4 302.3L298.9 309.8L291.4 302.3zM305.0 322.5L312.5 330.0L305.0 337.5L297.5 330.0zM310.8 349.4L318.3 356.9L310.8 364.4L303.3 356.9zM316.6 378.0L324.1 385.5L316.6 393.0L309.1 385.5zM323.6 418.8L331.1 426.3L323.6 433.8L316.1 426.3zM330.3 460.7L337.8 468.2L330.3 475.7L322.8 468.2zM339.5 500.8L346.9 508.3L339.5 515.8L332.0 508.3zM348.6 538.8L356.1 546.3L348.6 553.8L341.1 546.3zM355.6 576.7L363.0 584.2L355.6 591.7L348.1 584.2zM362.5 612.9L370.0 620.4L362.5 627.9L355.0 620.4zM372.6 649.6L380.1 657.1L372.6 664.6L365.1 657.1zM379.1 680.8L386.6 688.3L379.1 695.8L371.7 688.3zM385.7 711.6L393.2 719.1L385.7 726.6L378.2 719.1zM393.1 737.6L400.6 745.1L393.1 752.6L385.6 745.1zM403.2 762.1L410.7 769.6L403.2 777.1L395.7 769.6zM412.3 785.0L419.8 792.5L412.3 800.0L404.8 792.5zM420.0 811.0L427.5 818.5L420.0 826.0L412.5 818.5zM428.6 828.8L436.1 836.3L428.6 843.8L421.1 836.3zM434.5 832.5L442.0 840.0L434.5 847.5L427.0 840.0z"/>
<path d="M214.8 54.0 222.1 60.1 229.3 68.5 236.5 80.0 243.7 93.0 249.5 107.5 259.6 126.3 266.8 145.0 274.0 171.0 280.7 198.5 287.6 228.9 295.2 265.0 301.1 308.1 308.4 345.3 320.0 410.0 327.0 444.3 334.0 480.0 340.1 520.0 346.3 560.8 353.8 603.5 361.3 642.7 368.6 677.2 375.7 713.0 383.3 741.5 391.9 769.0 401.6 792.5 410.2 810.0 419.4 827.1 426.7 840.0 435.9 850.6" fill="none" stroke="#ff0000" stroke-width="1.5"/>
<path d="M208.3 54.0L220.0 47.5L220.0 60.5zM215.6 60.1L227.2 53.6L227.2 66.6zM222.8 68.5L234.5 62.0L234.5 75.0zM230.0 80.0L241.7 73.5L241.7 86.5zM237.2 93.0L248.9 86.5L248.9 99.5zM243.0 107.5L254.7 101.0L254.7 114.0zM253.1 126.3L264.8 119.8L264.8 132.8zM260.3 145.0L272.0 138.5L272.0 151.5zM267.5 171.0L279.2 164.5L279.2 177.5zM274.2 198.5L285.9 192.0L285.9 205.0zM281.1 228.9L292.8 222.4L292.8 235.4zM288.7 265.0L300.4 258.5L300.4 271.5zM294.6 308.1L306.3 301.6L306.3 314.6zM301.9 345.3L313.6 338.8L313.6 351.8zM313.5 410.0L325.2 403.5L325.2 416.5zM320.5 444.3L332.2 437.8L332.2 450.8zM327.5 480.0L339.2 473.5L339.2 486.5zM333.6 520.0L345.3 513.5L345.3 526.5zM339.8 560.8L351.5 554.3L351.5 567.3zM347.3 603.5L359.0 597.0L359.0 610.0zM354.8 642.7L366.5 636.2L366.5 649.2zM362.1 677.2L373.8 670.7L373.8 683.7zM369.2 713.0L380.9 706.5L380.9 719.5zM376.8 741.5L388.5 735.0L388.5 748.0zM385.4 769.0L397.1 762.5L397.1 775.5zM395.1 792.5L406.8 786.0L406.8 799.0zM403.7 810.0L415.4 803.5L415.4 816.5zM412.9 827.1L424.6 820.6L424.6 833.6zM420.2 840.0L431.9 833.5L431.9 846.5zM429.4 850.6L441.1 844.1L441.1 857.1z"/>
</g>
<g clip-path="url(#c1)" fill="#ff0000">
<path d="M492.0 222.0 515.0 243.6 538.6 277.3 560.5 315.5 585.0 358.5 608.9 398.4 629.9 441.5 654.1 484.6 678.2 529.5 699.2 571.2 723.5 610.6 748.0 647.9 768.4 687.0 792.9 717.6 816.4 747.5 837.8 772.0 860.0 792.0" fill="none" stroke="#ff0000" stroke-width="1.5"/>
<path d="M486.0 222.0a6.0 6.0 0 1 0 12.1 0a6.0 6.0 0 1 0 -12.1 0zM509.0 243.6a6.0 6.0 0 1 0 12.1 0a6.0 6.0 0 1 0 -12.1 0zM532.6 277.3a6.0 6.0 0 1 0 12.1 0a6.0 6.0 0 1 0 -12.1 0zM554.5 315.5a6.0 6.0 0 1 0 12.1 0a6.0 6.0 0 1 0 -12.1 0zM579.0 358.5a6.0 6.0 0 1 0 12.1 0a6.0 6.0 0 1 0 -12.1 0zM602.9 398.4a6.0 6.0 0 1 0 12.1 0a6.0 6.0 0 1 0 -12.1 0zM623.9 441.5a6.0 6.0 0 1 0 12.1 0a6.0 6.0 0 1 0 -12.1 0zM648.1 484.6a6.0 6.0 0 1 0 12.1 0a6.0 6.0 0 1 0 -12.1 0zM672.2 529.5a6.0 6.0 0 1 0 12.1 0a6.0 6.0 0 1 0 -12.1 0zM693.2 571.2a6.0 6.0 0 1 0 12.1 0a6.0 6.0 0 1 0 -12.1 0zM717.5 610.6a6.0 6.0 0 1 0 12.1 0a6.0 6.0 0 1 0 -12.1 0zM742.0 647.9a6.0 6.0 0 1 0 12.1 0a6.0 6.0 0 1 0 -12.1 0zM762.4 687.0a6.0 6.0 0 1 0 12.1 0a6.0 6.0 0 1 0 -12.1 0zM786.9 717.6a6.0 6.0 0 1 0 12.1 0a6.0 6.0 0 1 0 -12.1 0zM810.4 747.5a6.0 6.0 0 1 0 12.1 0a6.0 6.0 0 1 0 -12.1 0zM831.8 772.0a6.0 6.0 0 1 0 12.1 0a6.0 6.0 0 1 0 -12.1 0zM854.0 792.0a6.0 6.0 0 1 0 12.1 0a6.0 6.0 0 1 0 -12.1 0z"/>
<path d="M491.0 118.0 514.1 139.0 538.6 180.7 563.1 229.7 584.7 288.8 607.4 355.6 629.3 429.9 652.6 499.8 677.4 572.0 701.2 637.5 723.5 698.6 747.0 748.8 770.0 787.9 792.9 822.1 816.4 842.9 838.8 859.7 860.0 870.0" fill="none" stroke="#ff0000" stroke-width="1.5"/>
<path d="M491.0 111.5L497.5 123.2L484.5 123.2zM514.1 132.5L520.6 144.2L507.6 144.2zM538.6 174.2L545.1 185.9L532.1 185.9zM563.1 223.2L569.6 234.9L556.6 234.9zM584.7 282.3L591.2 294.0L578.2 294.0zM607.4 349.1L613.9 360.8L600.9 360.8zM629.3 423.4L635.8 435.1L622.8 435.1zM652.6 493.3L659.1 505.0L646.1 505.0zM677.4 565.5L683.9 577.2L670.9 577.2zM701.2 631.0L707.7 642.7L694.7 642.7zM723.5 692.1L730.0 703.8L717.0 703.8zM747.0 742.3L753.5 754.0L740.5 754.0zM770.0 781.4L776.5 793.1L763.5 793.1zM792.9 815.6L799.4 827.3L786.4 827.3zM816.4 836.4L822.9 848.1L809.9 848.1zM838.8 853.2L845.3 864.9L832.3 864.9zM860.0 863.5L866.5 875.2L853.5 875.2z"/>
<path d="M494.0 65.0 507.5 78.4 520.7 93.7 533.4 112.1 546.7 136.1 558.8 162.0 570.3 195.1 580.4 234.0 591.9 281.6 610.4 327.3 629.3 397.8 646.8 476.5 662.8 546.4 675.1 600.2 687.4 648.8 701.2 690.1 714.3 730.4 726.6 765.9 738.8 794.6 751.6 817.8 763.9 836.8 777.6 851.5 791.4 863.7 802.1 872.0 813.5 877.2 825.0 881.1 840.0 885.0" fill="none" stroke="#ff0000" stroke-width="1.5"/>
<path d="M494.0 71.5L500.5 59.8L487.5 59.8zM507.5 84.9L514.0 73.2L501.0 73.2zM520.7 100.2L527.2 88.5L514.2 88.5zM533.4 118.6L539.9 106.9L526.9 106.9zM546.7 142.6L553.2 130.9L540.2 130.9zM558.8 168.5L565.3 156.8L552.3 156.8zM570.3 201.6L576.8 189.9L563.8 189.9zM580.4 240.5L586.9 228.8L573.9 228.8zM591.9 288.1L598.4 276.4L585.4 276.4zM610.4 333.8L616.9 322.1L603.9 322.1zM629.3 404.3L635.8 392.6L622.8 392.6zM646.8 483.0L653.3 471.3L640.3 471.3zM662.8 552.9L669.3 541.2L656.3 541.2zM675.1 606.7L681.6 595.0L668.6 595.0zM687.4 655.3L693.9 643.6L680.9 643.6zM701.2 696.6L707.7 684.9L694.7 684.9zM714.3 736.9L720.8 725.2L707.8 725.2zM726.6 772.4L733.1 760.7L720.1 760.7zM738.8 801.1L745.3 789.4L732.3 789.4zM751.6 824.3L758.1 812.6L745.1 812.6zM763.9 843.3L770.4 831.6L757.4 831.6zM777.6 858.0L784.1 846.3L771.1 846.3zM791.4 870.2L797.9 858.5L784.9 858.5zM802.1 878.5L808.6 866.8L795.6 866.8zM813.5 883.7L820.0 872.0L807.0 872.0zM825.0 887.6L831.5 875.9L818.5 875.9zM840.0 891.5L846.5 879.8L833.5 879.8z"/>
<path d="M535.7 62.0 545.0 85.0 555.3 110.1 568.8 141.8 579.5 173.5 588.2 200.9 595.6 234.9 603.4 267.8 612.2 307.5 620.6 345.9 628.7 386.2 636.6 429.9 644.4 473.0 652.6 517.3 659.9 555.2 672.0 615.0 685.9 670.2 692.9 705.3 702.1 735.9 709.4 762.8 718.0 786.4 726.6 805.6 735.7 823.0 747.0 839.9 757.7 853.6 770.0 867.4 780.7 875.0 787.9 878.9 795.0 882.0" fill="none" stroke="#ff0000" stroke-width="1.5"/>
<path d="M535.7 54.5L543.2 62.0L535.7 69.5L528.2 62.0zM545.0 77.5L552.5 85.0L545.0 92.5L537.5 85.0zM555.3 102.6L562.8 110.1L555.3 117.6L547.8 110.1zM568.8 134.3L576.3 141.8L568.8 149.3L561.3 141.8zM579.5 166.0L587.0 173.5L579.5 181.0L572.0 173.5zM588.2 193.4L595.7 200.9L588.2 208.4L580.7 200.9zM595.6 227.4L603.1 234.9L595.6 242.4L588.1 234.9zM603.4 260.3L610.9 267.8L603.4 275.3L595.9 267.8zM612.2 300.0L619.7 307.5L612.2 315.0L604.7 307.5zM620.6 338.4L628.1 345.9L620.6 353.4L613.1 345.9zM628.7 378.7L636.2 386.2L628.7 393.7L621.2 386.2zM636.6 422.4L644.1 429.9L636.6 437.4L629.1 429.9zM644.4 465.5L651.9 473.0L644.4 480.5L636.9 473.0zM652.6 509.8L660.1 517.3L652.6 524.8L645.1 517.3zM659.9 547.7L667.4 555.2L659.9 562.7L652.4 555.2zM672.0 607.5L679.5 615.0L672.0 622.5L664.5 615.0zM685.9 662.7L693.4 670.2L685.9 677.7L678.4 670.2zM692.9 697.8L700.4 705.3L692.9 712.8L685.4 705.3zM702.1 728.4L709.6 735.9L702.1 743.4L694.6 735.9zM709.4 755.3L716.9 762.8L709.4 770.3L701.9 762.8zM718.0 778.9L725.5 786.4L718.0 793.9L710.5 786.4zM726.6 798.1L734.1 805.6L726.6 813.1L719.1 805.6zM735.7 815.5L743.2 823.0L735.7 830.5L728.2 823.0zM747.0 832.4L754.5 839.9L747.0 847.4L739.5 839.9zM757.7 846.1L765.2 853.6L757.7 861.1L750.2 853.6zM770.0 859.9L777.5 867.4L770.0 874.9L762.5 867.4zM780.7 867.5L788.2 875.0L780.7 882.5L773.2 875.0zM787.9 871.4L795.3 878.9L787.9 886.4L780.4 878.9zM795.0 874.5L802.5 882.0L795.0 889.5L787.5 882.0z"/>
<path d="M537.5 61.0 544.1 68.7 550.7 79.7 557.3 88.5 563.1 98.6 569.7 115.9 576.0 133.2 581.2 151.9 588.2 176.4 593.3 199.5 599.7 226.8 606.3 254.2 612.9 288.8 624.9 357.6 631.6 398.4 638.6 443.8 646.2 488.1 654.1 533.3 661.3 585.7 667.6 627.4 675.2 658.0 681.3 693.1 687.4 719.1 695.1 745.1 704.2 765.0 712.5 783.3 721.7 801.6 731.8 817.8 740.9 832.2 751.6 847.5 758.3 854.6 765.0 860.0" fill="none" stroke="#ff0000" stroke-width="1.5"/>
<path d="M531.0 61.0L542.7 54.5L542.7 67.5zM537.6 68.7L549.3 62.2L549.3 75.2zM544.2 79.7L555.9 73.2L555.9 86.2zM550.8 88.5L562.5 82.0L562.5 95.0zM556.6 98.6L568.3 92.1L568.3 105.1zM563.2 115.9L574.9 109.4L574.9 122.4zM569.5 133.2L581.2 126.7L581.2 139.7zM574.7 151.9L586.4 145.4L586.4 158.4zM581.7 176.4L593.4 169.9L593.4 182.9zM586.8 199.5L598.5 193.0L598.5 206.0zM593.2 226.8L604.9 220.3L604.9 233.3zM599.8 254.2L611.5 247.7L611.5 260.7zM606.4 288.8L618.1 282.3L618.1 295.3zM618.4 357.6L630.1 351.1L630.1 364.1zM625.1 398.4L636.8 391.9L636.8 404.9zM632.1 443.8L643.8 437.3L643.8 450.3zM639.7 488.1L651.4 481.6L651.4 494.6zM647.6 533.3L659.3 526.8L659.3 539.8zM654.8 585.7L666.5 579.2L666.5 592.2zM661.1 627.4L672.8 620.9L672.8 633.9zM668.7 658.0L680.4 651.5L680.4 664.5zM674.8 693.1L686.5 686.6L686.5 699.6zM680.9 719.1L692.6 712.6L692.6 725.6zM688.6 745.1L700.3 738.6L700.3 751.6zM697.7 765.0L709.4 758.5L709.4 771.5zM706.0 783.3L717.7 776.8L717.7 789.8zM715.2 801.6L726.9 795.1L726.9 808.1zM725.3 817.8L737.0 811.3L737.0 824.3zM734.4 832.2L746.1 825.7L746.1 838.7zM745.1 847.5L756.8 841.0L756.8 854.0zM751.8 854.6L763.5 848.1L763.5 861.1zM758.5 860.0L770.2 853.5L770.2 866.5z"/>
</g>
<g clip-path="url(#c2)" fill="#ff0000">
<path d="M840.0 170.0 864.9 199.0 889.3 233.2 913.3 268.6 938.2 308.8 962.3 353.5 986.5 400.1 1010.6 442.9 1035.1 492.4 1059.3 539.1 1084.0 585.5 1108.0 628.3 1132.4 667.2 1156.9 705.4 1180.8 737.5 1205.0 765.0" fill="none" stroke="#ff0000" stroke-width="1.5"/>
<path d="M834.0 170.0a6.0 6.0 0 1 0 12.1 0a6.0 6.0 0 1 0 -12.1 0zM858.9 199.0a6.0 6.0 0 1 0 12.1 0a6.0 6.0 0 1 0 -12.1 0zM883.3 233.2a6.0 6.0 0 1 0 12.1 0a6.0 6.0 0 1 0 -12.1 0zM907.3 268.6a6.0 6.0 0 1 0 12.1 0a6.0 6.0 0 1 0 -12.1 0zM932.2 308.8a6.0 6.0 0 1 0 12.1 0a6.0 6.0 0 1 0 -12.1 0zM956.3 353.5a6.0 6.0 0 1 0 12.1 0a6.0 6.0 0 1 0 -12.1 0zM980.5 400.1a6.0 6.0 0 1 0 12.1 0a6.0 6.0 0 1 0 -12.1 0zM1004.6 442.9a6.0 6.0 0 1 0 12.1 0a6.0 6.0 0 1 0 -12.1 0zM1029.1 492.4a6.0 6.0 0 1 0 12.1 0a6.0 6.0 0 1 0 -12.1 0zM1053.3 539.1a6.0 6.0 0 1 0 12.1 0a6.0 6.0 0 1 0 -12.1 0zM1078.0 585.5a6.0 6.0 0 1 0 12.1 0a6.0 6.0 0 1 0 -12.1 0zM1102.0 628.3a6.0 6.0 0 1 0 12.1 0a6.0 6.0 0 1 0 -12.1 0zM1126.4 667.2a6.0 6.0 0 1 0 12.1 0a6.0 6.0 0 1 0 -12.1 0zM1150.9 705.4a6.0 6.0 0 1 0 12.1 0a6.0 6.0 0 1 0 -12.1 0zM1174.8 737.5a6.0 6.0 0 1 0 12.1 0a6.0 6.0 0 1 0 -12.1 0zM1199.0 765.0a6.0 6.0 0 1 0 12.1 0a6.0 6.0 0 1 0 -12.1 0z"/>
<path d="M845.0 75.0 866.1 97.6 887.2 125.1 907.5 157.0 928.7 199.0 949.6 249.7 970.4 306.3 991.4 369.2 1014.1 437.1 1033.1 507.0 1054.9 572.0 1074.3 634.5 1095.7 689.5 1116.5 739.1 1137.9 779.4 1159.3 810.0 1180.8 833.9 1198.2 849.2 1210.0 857.0" fill="none" stroke="#ff0000" stroke-width="1.5"/>
<path d="M845.0 68.5L851.5 80.2L838.5 80.2zM866.1 91.1L872.6 102.8L859.6 102.8zM887.2 118.6L893.7 130.3L880.7 130.3zM907.5 150.5L914.0 162.2L901.0 162.2zM928.7 192.5L935.2 204.2L922.2 204.2zM949.6 243.2L956.1 254.9L943.1 254.9zM970.4 299.8L976.9 311.5L963.9 311.5zM991.4 362.7L997.9 374.4L984.9 374.4zM1014.1 430.6L1020.6 442.3L1007.6 442.3zM1033.1 500.5L1039.6 512.2L1026.6 512.2zM1054.9 565.5L1061.4 577.2L1048.4 577.2zM1074.3 628.0L1080.8 639.7L1067.8 639.7zM1095.7 683.0L1102.2 694.7L1089.2 694.7zM1116.5 732.6L1123.0 744.3L1110.0 744.3zM1137.9 772.9L1144.4 784.6L1131.4 784.6zM1159.3 803.5L1165.8 815.2L1152.8 815.2zM1180.8 827.4L1187.3 839.1L1174.3 839.1zM1198.2 842.7L1204.7 854.4L1191.7 854.4zM1210.0 850.5L1216.5 862.2L1203.5 862.2z"/>
<path d="M854.0 50.0 867.0 60.5 880.0 68.6 891.6 81.6 903.2 97.6 917.1 120.2 932.2 143.9 943.8 176.4 956.8 213.5 972.7 257.0 984.0 300.0 995.2 353.5 1008.3 411.8 1020.5 466.2 1033.1 522.5 1046.7 579.0 1058.4 628.9 1071.3 678.5 1084.1 719.2 1096.3 755.9 1109.5 786.5 1123.3 813.1 1135.5 831.5 1148.3 848.6 1160.6 862.0 1173.7 870.6 1186.0 877.0 1200.0 881.0" fill="none" stroke="#ff0000" stroke-width="1.5"/>
<path d="M854.0 56.5L860.5 44.8L847.5 44.8zM867.0 67.0L873.5 55.3L860.5 55.3zM880.0 75.1L886.5 63.4L873.5 63.4zM891.6 88.1L898.1 76.4L885.1 76.4zM903.2 104.1L909.7 92.4L896.7 92.4zM917.1 126.7L923.6 115.0L910.6 115.0zM932.2 150.4L938.7 138.7L925.7 138.7zM943.8 182.9L950.3 171.2L937.3 171.2zM956.8 220.0L963.3 208.3L950.3 208.3zM972.7 263.5L979.2 251.8L966.2 251.8zM984.0 306.5L990.5 294.8L977.5 294.8zM995.2 360.0L1001.7 348.3L988.7 348.3zM1008.3 418.3L1014.8 406.6L1001.8 406.6zM1020.5 472.7L1027.0 461.0L1014.0 461.0zM1033.1 529.0L1039.6 517.3L1026.6 517.3zM1046.7 585.5L1053.2 573.8L1040.2 573.8zM1058.4 635.4L1064.9 623.7L1051.9 623.7zM1071.3 685.0L1077.8 673.3L1064.8 673.3zM1084.1 725.7L1090.6 714.0L1077.6 714.0zM1096.3 762.4L1102.8 750.7L1089.8 750.7zM1109.5 793.0L1116.0 781.3L1103.0 781.3zM1123.3 819.6L1129.8 807.9L1116.8 807.9zM1135.5 838.0L1142.0 826.3L1129.0 826.3zM1148.3 855.1L1154.8 843.4L1141.8 843.4zM1160.6 868.5L1167.1 856.8L1154.1 856.8zM1173.7 877.1L1180.2 865.4L1167.2 865.4zM1186.0 883.5L1192.5 871.8L1179.5 871.8zM1200.0 887.5L1206.5 875.8L1193.5 875.8z"/>
<path d="M875.0 42.0 887.0 50.0 898.8 62.2 910.0 72.0 920.6 84.5 933.6 103.4 945.2 130.9 956.8 162.8 966.9 206.3 978.5 249.7 989.8 303.5 1001.9 365.7 1012.7 421.7 1025.2 491.0 1037.4 550.7 1046.8 611.2 1060.5 666.3 1071.3 714.6 1083.5 758.0 1095.7 791.1 1107.3 818.0 1118.7 837.0 1129.4 854.7 1141.0 867.5 1152.3 875.2 1165.0 880.0 1177.0 884.0 1190.0 886.0 1202.0 888.0" fill="none" stroke="#ff0000" stroke-width="1.5"/>
<path d="M875.0 34.5L882.5 42.0L875.0 49.5L867.5 42.0zM887.0 42.5L894.5 50.0L887.0 57.5L879.5 50.0zM898.8 54.7L906.3 62.2L898.8 69.7L891.3 62.2zM910.0 64.5L917.5 72.0L910.0 79.5L902.5 72.0zM920.6 77.0L928.1 84.5L920.6 92.0L913.1 84.5zM933.6 95.9L941.1 103.4L933.6 110.9L926.1 103.4zM945.2 123.4L952.7 130.9L945.2 138.4L937.7 130.9zM956.8 155.3L964.3 162.8L956.8 170.3L949.3 162.8zM966.9 198.8L974.4 206.3L966.9 213.8L959.4 206.3zM978.5 242.2L986.0 249.7L978.5 257.2L971.0 249.7zM989.8 296.0L997.3 303.5L989.8 311.0L982.3 303.5zM1001.9 358.2L1009.4 365.7L1001.9 373.2L994.4 365.7zM1012.7 414.2L1020.2 421.7L1012.7 429.2L1005.2 421.7zM1025.2 483.5L1032.7 491.0L1025.2 498.5L1017.7 491.0zM1037.4 543.2L1044.9 550.7L1037.4 558.2L1029.9 550.7zM1046.8 603.7L1054.3 611.2L1046.8 618.7L1039.3 611.2zM1060.5 658.8L1068.0 666.3L1060.5 673.8L1053.0 666.3zM1071.3 707.1L1078.8 714.6L1071.3 722.1L1063.8 714.6zM1083.5 750.5L1091.0 758.0L1083.5 765.5L1076.0 758.0zM1095.7 783.6L1103.2 791.1L1095.7 798.6L1088.2 791.1zM1107.3 810.5L1114.8 818.0L1107.3 825.5L1099.8 818.0zM1118.7 829.5L1126.2 837.0L1118.7 844.5L1111.2 837.0zM1129.4 847.2L1136.9 854.7L1129.4 862.2L1121.9 854.7zM1141.0 860.0L1148.5 867.5L1141.0 875.0L1133.5 867.5zM1152.3 867.7L1159.8 875.2L1152.3 882.7L1144.8 875.2zM1165.0 872.5L1172.5 880.0L1165.0 887.5L1157.5 880.0zM1177.0 876.5L1184.5 884.0L1177.0 891.5L1169.5 884.0zM1190.0 878.5L1197.5 886.0L1190.0 893.5L1182.5 886.0zM1202.0 880.5L1209.5 888.0L1202.0 895.5L1194.5 888.0z"/>
<path d="M851.0 36.5 862.5 37.5 874.2 39.6 885.0 42.0 896.0 46.0 907.5 51.2 922.0 65.7 932.2 80.2 944.3 101.9 954.8 130.9 966.4 170.0 978.0 224.5 985.6 303.1 996.6 351.2 1008.3 418.2 1023.0 495.0 1035.1 569.6 1048.3 636.6 1059.0 699.3 1069.7 748.3 1081.0 789.5 1094.2 821.7 1106.4 842.5 1118.7 857.8 1130.9 869.1 1143.1 877.3 1155.0 882.0 1167.0 885.0 1180.0 887.0 1192.0 888.0 1204.0 889.0" fill="none" stroke="#ff0000" stroke-width="1.5"/>
<path d="M844.5 36.5L856.2 30.0L856.2 43.0zM856.0 37.5L867.7 31.0L867.7 44.0zM867.7 39.6L879.4 33.1L879.4 46.1zM878.5 42.0L890.2 35.5L890.2 48.5zM889.5 46.0L901.2 39.5L901.2 52.5zM901.0 51.2L912.7 44.7L912.7 57.7zM915.5 65.7L927.2 59.2L927.2 72.2zM925.7 80.2L937.4 73.7L937.4 86.7zM937.8 101.9L949.5 95.4L949.5 108.4zM948.3 130.9L960.0 124.4L960.0 137.4zM959.9 170.0L971.6 163.5L971.6 176.5zM971.5 224.5L983.2 218.0L983.2 231.0zM979.1 303.1L990.8 296.6L990.8 309.6zM990.1 351.2L1001.8 344.7L1001.8 357.7zM1001.8 418.2L1013.5 411.7L1013.5 424.7zM1016.5 495.0L1028.2 488.5L1028.2 501.5zM1028.6 569.6L1040.3 563.1L1040.3 576.1zM1041.8 636.6L1053.5 630.1L1053.5 643.1zM1052.5 699.3L1064.2 692.8L1064.2 705.8zM1063.2 748.3L1074.9 741.8L1074.9 754.8zM1074.5 789.5L1086.2 783.0L1086.2 796.0zM1087.7 821.7L1099.4 815.2L1099.4 828.2zM1099.9 842.5L1111.6 836.0L1111.6 849.0zM1112.2 857.8L1123.9 851.3L1123.9 864.3zM1124.4 869.1L1136.1 862.6L1136.1 875.6zM1136.6 877.3L1148.3 870.8L1148.3 883.8zM1148.5 882.0L1160.2 875.5L1160.2 888.5zM1160.5 885.0L1172.2 878.5L1172.2 891.5zM1173.5 887.0L1185.2 880.5L1185.2 893.5zM1185.5 888.0L1197.2 881.5L1197.2 894.5zM1197.5 889.0L1209.2 882.5L1209.2 895.5z"/>
</g>
<g clip-path="url(#c0)" fill="#0000ff">
<path d="M143.4 268.0 163.4 296.4 184.7 327.3 201.3 370.1 222.5 405.0 243.5 445.8 264.7 484.5 282.2 528.2 302.6 565.2 322.0 602.0 342.0 640.0 361.3 676.3 382.7 703.9 404.1 734.4 424.6 761.0 444.5 782.4 462.8 803.9 483.6 820.0 502.6 833.8 522.0 846.0" fill="none" stroke="#0000ff" stroke-width="1.5"/>
<path d="M143.4 261.5L149.9 273.2L136.9 273.2zM163.4 289.9L169.9 301.6L156.9 301.6zM184.7 320.8L191.2 332.5L178.2 332.5zM201.3 363.6L207.8 375.3L194.8 375.3zM222.5 398.5L229.0 410.2L216.0 410.2zM243.5 439.3L250.0 451.0L237.0 451.0zM264.7 478.0L271.2 489.7L258.2 489.7zM282.2 521.7L288.7 533.4L275.7 533.4zM302.6 558.7L309.1 570.4L296.1 570.4zM322.0 595.5L328.5 607.2L315.5 607.2zM342.0 633.5L348.5 645.2L335.5 645.2zM361.3 669.8L367.8 681.5L354.8 681.5zM382.7 697.4L389.2 709.1L376.2 709.1zM404.1 727.9L410.6 739.6L397.6 739.6zM424.6 754.5L431.1 766.2L418.1 766.2zM444.5 775.9L451.0 787.6L438.0 787.6zM462.8 797.4L469.3 809.1L456.3 809.1zM483.6 813.5L490.1 825.2L477.1 825.2zM502.6 827.3L509.1 839.0L496.1 839.0zM522.0 839.5L528.5 851.2L515.5 851.2z"/>
<path d="M141.0 100.0 158.4 130.6 174.3 161.0 192.3 192.7 209.0 237.5 226.4 279.4 243.8 336.0 261.3 391.3 278.7 448.7 296.2 508.4 314.3 568.1 332.0 625.0 350.0 675.0 368.0 719.1 385.7 758.9 401.6 791.0 420.0 817.0 437.7 841.5 456.0 856.8 474.4 869.0 491.9 877.2 509.0 882.0" fill="none" stroke="#0000ff" stroke-width="1.5"/>
<path d="M141.0 106.5L147.5 94.8L134.5 94.8zM158.4 137.1L164.9 125.4L151.9 125.4zM174.3 167.5L180.8 155.8L167.8 155.8zM192.3 199.2L198.8 187.5L185.8 187.5zM209.0 244.0L215.5 232.3L202.5 232.3zM226.4 285.9L232.9 274.2L219.9 274.2zM243.8 342.5L250.3 330.8L237.3 330.8zM261.3 397.8L267.8 386.1L254.8 386.1zM278.7 455.2L285.2 443.5L272.2 443.5zM296.2 514.9L302.7 503.2L289.7 503.2zM314.3 574.6L320.8 562.9L307.8 562.9zM332.0 631.5L338.5 619.8L325.5 619.8zM350.0 681.5L356.5 669.8L343.5 669.8zM368.0 725.6L374.5 713.9L361.5 713.9zM385.7 765.4L392.2 753.7L379.2 753.7zM401.6 797.5L408.1 785.8L395.1 785.8zM420.0 823.5L426.5 811.8L413.5 811.8zM437.7 848.0L444.2 836.3L431.2 836.3zM456.0 863.3L462.5 851.6L449.5 851.6zM474.4 875.5L480.9 863.8L467.9 863.8zM491.9 883.7L498.4 872.0L485.4 872.0zM509.0 888.5L515.5 876.8L502.5 876.8z"/>
<path d="M142.8 56.0 158.4 69.9 174.9 85.2 188.2 107.5 205.6 135.0 220.0 171.6 233.6 215.3 251.0 266.4 264.7 325.5 282.2 393.4 296.2 464.1 314.3 534.6 330.0 600.0 343.0 660.0 357.3 714.6 372.6 764.1 390.0 801.7 404.1 830.1 420.6 850.6 434.7 866.9 450.0 876.6 466.5 883.7 481.2 887.3 498.0 889.5" fill="none" stroke="#0000ff" stroke-width="1.5"/>
<path d="M142.8 48.5L150.3 56.0L142.8 63.5L135.3 56.0zM158.4 62.4L165.9 69.9L158.4 77.4L150.9 69.9zM174.9 77.7L182.4 85.2L174.9 92.7L167.4 85.2zM188.2 100.0L195.7 107.5L188.2 115.0L180.7 107.5zM205.6 127.5L213.1 135.0L205.6 142.5L198.1 135.0zM220.0 164.1L227.5 171.6L220.0 179.1L212.5 171.6zM233.6 207.8L241.1 215.3L233.6 222.8L226.1 215.3zM251.0 258.9L258.5 266.4L251.0 273.9L243.5 266.4zM264.7 318.0L272.2 325.5L264.7 333.0L257.2 325.5zM282.2 385.9L289.7 393.4L282.2 400.9L274.7 393.4zM296.2 456.6L303.7 464.1L296.2 471.6L288.7 464.1zM314.3 527.1L321.8 534.6L314.3 542.1L306.8 534.6zM330.0 592.5L337.5 600.0L330.0 607.5L322.5 600.0zM343.0 652.5L350.5 660.0L343.0 667.5L335.5 660.0zM357.3 707.1L364.8 714.6L357.3 722.1L349.8 714.6zM372.6 756.6L380.1 764.1L372.6 771.6L365.1 764.1zM390.0 794.2L397.5 801.7L390.0 809.2L382.5 801.7zM404.1 822.6L411.6 830.1L404.1 837.6L396.6 830.1zM420.6 843.1L428.1 850.6L420.6 858.1L413.1 850.6zM434.7 859.4L442.2 866.9L434.7 874.4L427.2 866.9zM450.0 869.1L457.5 876.6L450.0 884.1L442.5 876.6zM466.5 876.2L474.0 883.7L466.5 891.2L459.0 883.7zM481.2 879.8L488.7 887.3L481.2 894.8L473.7 887.3zM498.0 882.0L505.5 889.5L498.0 897.0L490.5 889.5z"/>
<path d="M204.7 87.2 211.9 103.0 222.0 116.2 228.7 136.4 235.0 161.0 243.1 182.6 252.4 210.0 259.6 241.9 266.8 278.0 274.9 317.7 285.1 359.9 292.4 400.1 301.1 441.4 308.4 490.9 320.0 560.0 327.0 595.5 334.0 630.0 343.4 682.6 352.7 729.8 360.4 755.8 371.1 781.8 377.2 804.8 384.8 824.6 391.0 836.3 397.1 846.0 404.0 855.0 410.8 862.9 416.9 869.6 423.0 875.1 429.9 879.6 436.8 882.8" fill="none" stroke="#0000ff" stroke-width="1.5"/>
<path d="M198.2 87.2L209.9 80.7L209.9 93.7zM205.4 103.0L217.1 96.5L217.1 109.5zM215.5 116.2L227.2 109.7L227.2 122.7zM222.2 136.4L233.9 129.9L233.9 142.9zM228.5 161.0L240.2 154.5L240.2 167.5zM236.6 182.6L248.3 176.1L248.3 189.1zM245.9 210.0L257.6 203.5L257.6 216.5zM253.1 241.9L264.8 235.4L264.8 248.4zM260.3 278.0L272.0 271.5L272.0 284.5zM268.4 317.7L280.1 311.2L280.1 324.2zM278.6 359.9L290.3 353.4L290.3 366.4zM285.9 400.1L297.6 393.6L297.6 406.6zM294.6 441.4L306.3 434.9L306.3 447.9zM301.9 490.9L313.6 484.4L313.6 497.4zM313.5 560.0L325.2 553.5L325.2 566.5zM320.5 595.5L332.2 589.0L332.2 602.0zM327.5 630.0L339.2 623.5L339.2 636.5zM336.9 682.6L348.6 676.1L348.6 689.1zM346.2 729.8L357.9 723.3L357.9 736.3zM353.9 755.8L365.6 749.3L365.6 762.3zM364.6 781.8L376.3 775.3L376.3 788.3zM370.7 804.8L382.4 798.3L382.4 811.3zM378.3 824.6L390.0 818.1L390.0 831.1zM384.5 836.3L396.2 829.8L396.2 842.8zM390.6 846.0L402.3 839.5L402.3 852.5zM397.5 855.0L409.2 848.5L409.2 861.5zM404.3 862.9L416.0 856.4L416.0 869.4zM410.4 869.6L422.1 863.1L422.1 876.1zM416.5 875.1L428.2 868.6L428.2 881.6zM423.4 879.6L435.1 873.1L435.1 886.1zM430.3 882.8L442.0 876.3L442.0 889.3z"/>
<path d="M217.7 71.4 224.2 83.4 230.7 95.9 239.4 113.3 245.2 134.9 252.4 162.4 262.5 187.0 269.7 220.2 276.0 259.2 283.7 299.3 290.4 341.8 296.8 389.0 304.1 438.5 309.9 485.1 316.6 534.6 324.4 579.7 334.0 625.0 341.1 667.2 348.1 705.4 355.2 728.3 363.4 769.6 369.5 794.1 377.2 818.5 384.8 836.9 392.5 850.6 401.6 861.3 410.8 870.5 418.5 878.2 426.1 882.8" fill="none" stroke="#0000ff" stroke-width="1.5"/>
<path d="M224.2 71.4L212.5 64.9L212.5 77.9zM230.7 83.4L219.0 76.9L219.0 89.9zM237.2 95.9L225.5 89.4L225.5 102.4zM245.9 113.3L234.2 106.8L234.2 119.8zM251.7 134.9L240.0 128.4L240.0 141.4zM258.9 162.4L247.2 155.9L247.2 168.9zM269.0 187.0L257.3 180.5L257.3 193.5zM276.2 220.2L264.5 213.7L264.5 226.7zM282.5 259.2L270.8 252.7L270.8 265.7zM290.2 299.3L278.5 292.8L278.5 305.8zM296.9 341.8L285.2 335.3L285.2 348.3zM303.3 389.0L291.6 382.5L291.6 395.5zM310.6 438.5L298.9 432.0L298.9 445.0zM316.4 485.1L304.7 478.6L304.7 491.6zM323.1 534.6L311.4 528.1L311.4 541.1zM330.9 579.7L319.2 573.2L319.2 586.2zM340.5 625.0L328.8 618.5L328.8 631.5zM347.6 667.2L335.9 660.7L335.9 673.7zM354.6 705.4L342.9 698.9L342.9 711.9zM361.7 728.3L350.0 721.8L350.0 734.8zM369.9 769.6L358.2 763.1L358.2 776.1zM376.0 794.1L364.3 787.6L364.3 800.6zM383.7 818.5L372.0 812.0L372.0 825.0zM391.3 836.9L379.6 830.4L379.6 843.4zM399.0 850.6L387.3 844.1L387.3 857.1zM408.1 861.3L396.4 854.8L396.4 867.8zM417.3 870.5L405.6 864.0L405.6 877.0zM425.0 878.2L413.3 871.7L413.3 884.7zM432.6 882.8L420.9 876.3L420.9 889.3z"/>
</g>
<g clip-path="url(#c1)" fill="#0000ff">
<path d="M491.0 305.0 514.2 359.9 539.0 404.2 559.9 453.2 584.1 500.4 608.3 547.9 631.0 592.0 654.0 636.0 677.7 677.8 698.1 713.0 722.6 746.6 747.0 774.1 767.5 800.7 792.0 821.5 815.8 838.3 837.2 851.5 860.0 862.0" fill="none" stroke="#0000ff" stroke-width="1.5"/>
<path d="M491.0 298.5L497.5 310.2L484.5 310.2zM514.2 353.4L520.7 365.1L507.7 365.1zM539.0 397.7L545.5 409.4L532.5 409.4zM559.9 446.7L566.4 458.4L553.4 458.4zM584.1 493.9L590.6 505.6L577.6 505.6zM608.3 541.4L614.8 553.1L601.8 553.1zM631.0 585.5L637.5 597.2L624.5 597.2zM654.0 629.5L660.5 641.2L647.5 641.2zM677.7 671.3L684.2 683.0L671.2 683.0zM698.1 706.5L704.6 718.2L691.6 718.2zM722.6 740.1L729.1 751.8L716.1 751.8zM747.0 767.6L753.5 779.3L740.5 779.3zM767.5 794.2L774.0 805.9L761.0 805.9zM792.0 815.0L798.5 826.7L785.5 826.7zM815.8 831.8L822.3 843.5L809.3 843.5zM837.2 845.0L843.7 856.7L830.7 856.7zM860.0 855.5L866.5 867.2L853.5 867.2z"/>
<path d="M492.5 175.0 515.5 213.9 538.6 275.3 562.3 343.9 585.0 422.6 608.3 499.8 632.2 578.5 655.0 650.0 676.7 716.0 701.2 769.5 723.5 809.9 746.1 842.3 770.6 862.8 792.9 874.1 817.4 881.1 840.3 885.7 860.0 888.0" fill="none" stroke="#0000ff" stroke-width="1.5"/>
<path d="M492.5 181.5L499.0 169.8L486.0 169.8zM515.5 220.4L522.0 208.7L509.0 208.7zM538.6 281.8L545.1 270.1L532.1 270.1zM562.3 350.4L568.8 338.7L555.8 338.7zM585.0 429.1L591.5 417.4L578.5 417.4zM608.3 506.3L614.8 494.6L601.8 494.6zM632.2 585.0L638.7 573.3L625.7 573.3zM655.0 656.5L661.5 644.8L648.5 644.8zM676.7 722.5L683.2 710.8L670.2 710.8zM701.2 776.0L707.7 764.3L694.7 764.3zM723.5 816.4L730.0 804.7L717.0 804.7zM746.1 848.8L752.6 837.1L739.6 837.1zM770.6 869.3L777.1 857.6L764.1 857.6zM792.9 880.6L799.4 868.9L786.4 868.9zM817.4 887.6L823.9 875.9L810.9 875.9zM840.3 892.2L846.8 880.5L833.8 880.5zM860.0 894.5L866.5 882.8L853.5 882.8z"/>
<path d="M496.0 95.0 509.2 111.0 521.3 136.9 534.3 165.8 546.7 206.7 559.3 245.6 572.6 296.0 585.0 349.7 597.8 409.5 610.4 466.3 623.5 528.9 635.2 585.7 647.0 640.0 659.2 692.9 671.5 737.4 687.4 775.7 701.2 804.7 713.4 831.3 726.6 848.4 739.4 860.6 751.6 870.4 765.4 878.1 777.6 882.7 791.4 886.3 802.1 888.2 815.0 889.5" fill="none" stroke="#0000ff" stroke-width="1.5"/>
<path d="M496.0 87.5L503.5 95.0L496.0 102.5L488.5 95.0zM509.2 103.5L516.7 111.0L509.2 118.5L501.7 111.0zM521.3 129.4L528.8 136.9L521.3 144.4L513.8 136.9zM534.3 158.3L541.8 165.8L534.3 173.3L526.8 165.8zM546.7 199.2L554.2 206.7L546.7 214.2L539.2 206.7zM559.3 238.1L566.8 245.6L559.3 253.1L551.8 245.6zM572.6 288.5L580.1 296.0L572.6 303.5L565.1 296.0zM585.0 342.2L592.5 349.7L585.0 357.2L577.5 349.7zM597.8 402.0L605.3 409.5L597.8 417.0L590.3 409.5zM610.4 458.8L617.9 466.3L610.4 473.8L602.9 466.3zM623.5 521.4L631.0 528.9L623.5 536.4L616.0 528.9zM635.2 578.2L642.7 585.7L635.2 593.2L627.8 585.7zM647.0 632.5L654.5 640.0L647.0 647.5L639.5 640.0zM659.2 685.4L666.7 692.9L659.2 700.4L651.8 692.9zM671.5 729.9L679.0 737.4L671.5 744.9L664.0 737.4zM687.4 768.2L694.9 775.7L687.4 783.2L679.9 775.7zM701.2 797.2L708.7 804.7L701.2 812.2L693.7 804.7zM713.4 823.8L720.9 831.3L713.4 838.8L705.9 831.3zM726.6 840.9L734.1 848.4L726.6 855.9L719.1 848.4zM739.4 853.1L746.9 860.6L739.4 868.1L731.9 860.6zM751.6 862.9L759.1 870.4L751.6 877.9L744.1 870.4zM765.4 870.6L772.9 878.1L765.4 885.6L757.9 878.1zM777.6 875.2L785.1 882.7L777.6 890.2L770.1 882.7zM791.4 878.8L798.9 886.3L791.4 893.8L783.9 886.3zM802.1 880.7L809.6 888.2L802.1 895.7L794.6 888.2zM815.0 882.0L822.5 889.5L815.0 897.0L807.5 889.5z"/>
<path d="M538.0 121.7 545.8 142.7 554.4 168.6 563.1 196.6 570.3 228.3 578.4 264.3 589.0 303.2 594.3 349.7 603.1 392.0 611.8 441.5 619.1 488.1 626.4 531.3 634.5 578.5 641.2 617.7 648.0 655.0 655.5 692.2 663.0 726.7 670.6 758.8 676.7 784.2 682.8 806.2 690.5 824.6 699.7 842.9 707.3 855.1 718.0 865.8 727.2 872.0 737.9 878.1 750.0 882.0" fill="none" stroke="#0000ff" stroke-width="1.5"/>
<path d="M531.5 121.7L543.2 115.2L543.2 128.2zM539.3 142.7L551.0 136.2L551.0 149.2zM547.9 168.6L559.6 162.1L559.6 175.1zM556.6 196.6L568.3 190.1L568.3 203.1zM563.8 228.3L575.5 221.8L575.5 234.8zM571.9 264.3L583.6 257.8L583.6 270.8zM582.5 303.2L594.2 296.7L594.2 309.7zM587.8 349.7L599.5 343.2L599.5 356.2zM596.6 392.0L608.3 385.5L608.3 398.5zM605.3 441.5L617.0 435.0L617.0 448.0zM612.6 488.1L624.3 481.6L624.3 494.6zM619.9 531.3L631.6 524.8L631.6 537.8zM628.0 578.5L639.7 572.0L639.7 585.0zM634.8 617.7L646.5 611.2L646.5 624.2zM641.5 655.0L653.2 648.5L653.2 661.5zM649.0 692.2L660.7 685.7L660.7 698.7zM656.5 726.7L668.2 720.2L668.2 733.2zM664.1 758.8L675.8 752.3L675.8 765.3zM670.2 784.2L681.9 777.7L681.9 790.7zM676.3 806.2L688.0 799.7L688.0 812.7zM684.0 824.6L695.7 818.1L695.7 831.1zM693.2 842.9L704.9 836.4L704.9 849.4zM700.8 855.1L712.5 848.6L712.5 861.6zM711.5 865.8L723.2 859.3L723.2 872.3zM720.7 872.0L732.4 865.5L732.4 878.5zM731.4 878.1L743.1 871.6L743.1 884.6zM743.5 882.0L755.2 875.5L755.2 888.5z"/>
<path d="M540.0 84.2 546.7 96.6 553.0 114.5 558.8 130.3 564.5 148.5 571.7 175.5 577.5 199.5 584.7 231.2 589.9 262.0 594.8 298.9 603.1 335.2 608.3 373.0 614.7 418.2 620.0 459.6 626.4 501.2 632.8 547.9 638.9 586.3 645.0 620.0 655.0 665.0 663.0 697.7 666.0 723.7 671.5 758.8 676.7 784.8 684.4 806.2 692.0 824.6 701.2 841.4 711.9 856.7 722.6 868.9 733.3 875.0 739.1 877.7 745.0 880.0" fill="none" stroke="#0000ff" stroke-width="1.5"/>
<path d="M546.5 84.2L534.8 77.7L534.8 90.7zM553.2 96.6L541.5 90.1L541.5 103.1zM559.5 114.5L547.8 108.0L547.8 121.0zM565.3 130.3L553.6 123.8L553.6 136.8zM571.0 148.5L559.3 142.0L559.3 155.0zM578.2 175.5L566.5 169.0L566.5 182.0zM584.0 199.5L572.3 193.0L572.3 206.0zM591.2 231.2L579.5 224.7L579.5 237.7zM596.4 262.0L584.7 255.5L584.7 268.5zM601.3 298.9L589.6 292.4L589.6 305.4zM609.6 335.2L597.9 328.7L597.9 341.7zM614.8 373.0L603.1 366.5L603.1 379.5zM621.2 418.2L609.5 411.7L609.5 424.7zM626.5 459.6L614.8 453.1L614.8 466.1zM632.9 501.2L621.2 494.7L621.2 507.7zM639.3 547.9L627.6 541.4L627.6 554.4zM645.4 586.3L633.7 579.8L633.7 592.8zM651.5 620.0L639.8 613.5L639.8 626.5zM661.5 665.0L649.8 658.5L649.8 671.5zM669.5 697.7L657.8 691.2L657.8 704.2zM672.5 723.7L660.8 717.2L660.8 730.2zM678.0 758.8L666.3 752.3L666.3 765.3zM683.2 784.8L671.5 778.3L671.5 791.3zM690.9 806.2L679.2 799.7L679.2 812.7zM698.5 824.6L686.8 818.1L686.8 831.1zM707.7 841.4L696.0 834.9L696.0 847.9zM718.4 856.7L706.7 850.2L706.7 863.2zM729.1 868.9L717.4 862.4L717.4 875.4zM739.8 875.0L728.1 868.5L728.1 881.5zM745.6 877.7L733.9 871.2L733.9 884.2zM751.5 880.0L739.8 873.5L739.8 886.5z"/>
</g>
<g clip-path="url(#c2)" fill="#0000ff">
<path d="M840.0 255.0 864.1 298.7 888.9 343.9 912.8 392.0 937.8 442.1 962.3 496.2 986.5 546.9 1010.0 596.0 1033.9 642.7 1059.0 684.6 1083.5 726.2 1107.3 759.9 1131.8 788.0 1156.3 813.1 1180.8 833.3 1205.0 848.0" fill="none" stroke="#0000ff" stroke-width="1.5"/>
<path d="M840.0 248.5L846.5 260.2L833.5 260.2zM864.1 292.2L870.6 303.9L857.6 303.9zM888.9 337.4L895.4 349.1L882.4 349.1zM912.8 385.5L919.3 397.2L906.3 397.2zM937.8 435.6L944.3 447.3L931.3 447.3zM962.3 489.7L968.8 501.4L955.8 501.4zM986.5 540.4L993.0 552.1L980.0 552.1zM1010.0 589.5L1016.5 601.2L1003.5 601.2zM1033.9 636.2L1040.4 647.9L1027.4 647.9zM1059.0 678.1L1065.5 689.8L1052.5 689.8zM1083.5 719.7L1090.0 731.4L1077.0 731.4zM1107.3 753.4L1113.8 765.1L1100.8 765.1zM1131.8 781.5L1138.3 793.2L1125.3 793.2zM1156.3 806.6L1162.8 818.3L1149.8 818.3zM1180.8 826.8L1187.3 838.5L1174.3 838.5zM1205.0 841.5L1211.5 853.2L1198.5 853.2z"/>
<path d="M845.0 105.0 865.5 146.8 887.2 190.9 907.5 241.0 928.5 301.3 949.5 370.1 969.8 443.8 990.8 518.7 1011.2 584.2 1031.0 650.0 1052.9 719.2 1074.3 766.6 1095.7 805.8 1117.1 836.3 1138.5 856.8 1160.0 870.6 1181.4 881.3 1203.0 886.0" fill="none" stroke="#0000ff" stroke-width="1.5"/>
<path d="M845.0 111.5L851.5 99.8L838.5 99.8zM865.5 153.3L872.0 141.6L859.0 141.6zM887.2 197.4L893.7 185.7L880.7 185.7zM907.5 247.5L914.0 235.8L901.0 235.8zM928.5 307.8L935.0 296.1L922.0 296.1zM949.5 376.6L956.0 364.9L943.0 364.9zM969.8 450.3L976.3 438.6L963.3 438.6zM990.8 525.2L997.3 513.5L984.3 513.5zM1011.2 590.7L1017.7 579.0L1004.7 579.0zM1031.0 656.5L1037.5 644.8L1024.5 644.8zM1052.9 725.7L1059.4 714.0L1046.4 714.0zM1074.3 773.1L1080.8 761.4L1067.8 761.4zM1095.7 812.3L1102.2 800.6L1089.2 800.6zM1117.1 842.8L1123.6 831.1L1110.6 831.1zM1138.5 863.3L1145.0 851.6L1132.0 851.6zM1160.0 877.1L1166.5 865.4L1153.5 865.4zM1181.4 887.8L1187.9 876.1L1174.9 876.1zM1203.0 892.5L1209.5 880.8L1196.5 880.8z"/>
<path d="M842.0 57.0 855.3 67.1 868.4 80.2 881.4 95.2 893.9 117.3 906.1 145.4 919.1 180.2 932.2 217.9 944.3 267.1 957.5 317.7 970.4 376.8 982.7 435.6 996.1 496.8 1008.3 560.9 1020.8 617.3 1033.9 669.3 1046.8 719.2 1059.6 762.0 1072.8 797.2 1085.0 822.3 1097.3 842.5 1110.4 859.0 1123.3 870.0 1137.0 878.3 1150.2 884.4 1163.0 887.4 1176.0 889.0 1189.0 890.0 1202.0 890.5" fill="none" stroke="#0000ff" stroke-width="1.5"/>
<path d="M842.0 49.5L849.5 57.0L842.0 64.5L834.5 57.0zM855.3 59.6L862.8 67.1L855.3 74.6L847.8 67.1zM868.4 72.7L875.9 80.2L868.4 87.7L860.9 80.2zM881.4 87.7L888.9 95.2L881.4 102.7L873.9 95.2zM893.9 109.8L901.4 117.3L893.9 124.8L886.4 117.3zM906.1 137.9L913.6 145.4L906.1 152.9L898.6 145.4zM919.1 172.7L926.6 180.2L919.1 187.7L911.6 180.2zM932.2 210.4L939.7 217.9L932.2 225.4L924.7 217.9zM944.3 259.6L951.8 267.1L944.3 274.6L936.8 267.1zM957.5 310.2L965.0 317.7L957.5 325.2L950.0 317.7zM970.4 369.3L977.9 376.8L970.4 384.3L962.9 376.8zM982.7 428.1L990.2 435.6L982.7 443.1L975.2 435.6zM996.1 489.3L1003.6 496.8L996.1 504.3L988.6 496.8zM1008.3 553.4L1015.8 560.9L1008.3 568.4L1000.8 560.9zM1020.8 609.8L1028.3 617.3L1020.8 624.8L1013.3 617.3zM1033.9 661.8L1041.4 669.3L1033.9 676.8L1026.4 669.3zM1046.8 711.7L1054.3 719.2L1046.8 726.7L1039.3 719.2zM1059.6 754.5L1067.1 762.0L1059.6 769.5L1052.1 762.0zM1072.8 789.7L1080.3 797.2L1072.8 804.7L1065.3 797.2zM1085.0 814.8L1092.5 822.3L1085.0 829.8L1077.5 822.3zM1097.3 835.0L1104.8 842.5L1097.3 850.0L1089.8 842.5zM1110.4 851.5L1117.9 859.0L1110.4 866.5L1102.9 859.0zM1123.3 862.5L1130.8 870.0L1123.3 877.5L1115.8 870.0zM1137.0 870.8L1144.5 878.3L1137.0 885.8L1129.5 878.3zM1150.2 876.9L1157.7 884.4L1150.2 891.9L1142.7 884.4zM1163.0 879.9L1170.5 887.4L1163.0 894.9L1155.5 887.4zM1176.0 881.5L1183.5 889.0L1176.0 896.5L1168.5 889.0zM1189.0 882.5L1196.5 890.0L1189.0 897.5L1181.5 890.0zM1202.0 883.0L1209.5 890.5L1202.0 898.0L1194.5 890.5z"/>
<path d="M855.3 42.5 874.2 55.5 885.8 64.2 897.4 80.2 909.0 100.5 920.6 126.6 932.2 157.0 943.8 200.5 954.8 249.7 967.0 307.0 978.6 368.1 990.2 438.0 1001.0 512.0 1012.7 572.6 1022.0 622.0 1034.5 696.2 1045.2 746.7 1058.4 789.5 1070.6 823.2 1083.5 847.7 1095.7 863.9 1109.5 875.2 1123.3 882.8 1137.0 886.0 1150.0 888.0 1163.0 889.0 1176.0 890.0 1189.0 890.0 1202.0 891.0" fill="none" stroke="#0000ff" stroke-width="1.5"/>
<path d="M848.8 42.5L860.5 36.0L860.5 49.0zM867.7 55.5L879.4 49.0L879.4 62.0zM879.3 64.2L891.0 57.7L891.0 70.7zM890.9 80.2L902.6 73.7L902.6 86.7zM902.5 100.5L914.2 94.0L914.2 107.0zM914.1 126.6L925.8 120.1L925.8 133.1zM925.7 157.0L937.4 150.5L937.4 163.5zM937.3 200.5L949.0 194.0L949.0 207.0zM948.3 249.7L960.0 243.2L960.0 256.2zM960.5 307.0L972.2 300.5L972.2 313.5zM972.1 368.1L983.8 361.6L983.8 374.6zM983.7 438.0L995.4 431.5L995.4 444.5zM994.5 512.0L1006.2 505.5L1006.2 518.5zM1006.2 572.6L1017.9 566.1L1017.9 579.1zM1015.5 622.0L1027.2 615.5L1027.2 628.5zM1028.0 696.2L1039.7 689.7L1039.7 702.7zM1038.7 746.7L1050.4 740.2L1050.4 753.2zM1051.9 789.5L1063.6 783.0L1063.6 796.0zM1064.1 823.2L1075.8 816.7L1075.8 829.7zM1077.0 847.7L1088.7 841.2L1088.7 854.2zM1089.2 863.9L1100.9 857.4L1100.9 870.4zM1103.0 875.2L1114.7 868.7L1114.7 881.7zM1116.8 882.8L1128.5 876.3L1128.5 889.3zM1130.5 886.0L1142.2 879.5L1142.2 892.5zM1143.5 888.0L1155.2 881.5L1155.2 894.5zM1156.5 889.0L1168.2 882.5L1168.2 895.5zM1169.5 890.0L1181.2 883.5L1181.2 896.5zM1182.5 890.0L1194.2 883.5L1194.2 896.5zM1195.5 891.0L1207.2 884.5L1207.2 897.5z"/>
<path d="M858.2 39.6 875.6 41.0 887.2 46.8 898.8 55.5 910.4 68.6 922.0 88.9 934.5 115.0 946.1 152.1 957.7 199.0 969.3 257.0 980.6 330.8 990.8 408.0 1002.5 493.9 1014.1 569.6 1025.4 644.2 1038.2 714.6 1049.2 771.2 1060.5 810.0 1072.8 840.0 1085.9 859.0 1098.8 872.1 1111.0 881.3 1124.0 885.0 1136.0 887.0 1148.0 888.5 1160.0 889.5 1173.0 890.0 1185.0 890.5 1197.0 891.0 1209.0 891.0" fill="none" stroke="#0000ff" stroke-width="1.5"/>
<path d="M864.7 39.6L853.0 33.1L853.0 46.1zM882.1 41.0L870.4 34.5L870.4 47.5zM893.7 46.8L882.0 40.3L882.0 53.3zM905.3 55.5L893.6 49.0L893.6 62.0zM916.9 68.6L905.2 62.1L905.2 75.1zM928.5 88.9L916.8 82.4L916.8 95.4zM941.0 115.0L929.3 108.5L929.3 121.5zM952.6 152.1L940.9 145.6L940.9 158.6zM964.2 199.0L952.5 192.5L952.5 205.5zM975.8 257.0L964.1 250.5L964.1 263.5zM987.1 330.8L975.4 324.3L975.4 337.3zM997.3 408.0L985.6 401.5L985.6 414.5zM1009.0 493.9L997.3 487.4L997.3 500.4zM1020.6 569.6L1008.9 563.1L1008.9 576.1zM1031.9 644.2L1020.2 637.7L1020.2 650.7zM1044.7 714.6L1033.0 708.1L1033.0 721.1zM1055.7 771.2L1044.0 764.7L1044.0 777.7zM1067.0 810.0L1055.3 803.5L1055.3 816.5zM1079.3 840.0L1067.6 833.5L1067.6 846.5zM1092.4 859.0L1080.7 852.5L1080.7 865.5zM1105.3 872.1L1093.6 865.6L1093.6 878.6zM1117.5 881.3L1105.8 874.8L1105.8 887.8zM1130.5 885.0L1118.8 878.5L1118.8 891.5zM1142.5 887.0L1130.8 880.5L1130.8 893.5zM1154.5 888.5L1142.8 882.0L1142.8 895.0zM1166.5 889.5L1154.8 883.0L1154.8 896.0zM1179.5 890.0L1167.8 883.5L1167.8 896.5zM1191.5 890.5L1179.8 884.0L1179.8 897.0zM1203.5 891.0L1191.8 884.5L1191.8 897.5zM1215.5 891.0L1203.8 884.5L1203.8 897.5z"/>
</g>
<line x1="334.3" y1="36.35" x2="334.3" y2="892.8" stroke="#000" stroke-width="3.4" stroke-linecap="round" stroke-dasharray="11 18.14"/>
<line x1="643.1" y1="36.35" x2="643.1" y2="892.8" stroke="#000" stroke-width="3.4" stroke-linecap="round" stroke-dasharray="11 18.14"/>
<line x1="1022.3" y1="36.35" x2="1022.3" y2="892.8" stroke="#000" stroke-width="3.4" stroke-linecap="round" stroke-dasharray="11 18.14"/>
<g stroke="#000" stroke-width="3.2" fill="none" stroke-linecap="square">
<rect x="157.5" y="27.4" width="1041.8" height="865.4"/>
<line x1="504.5" y1="27.4" x2="504.5" y2="892.8"/>
<line x1="851.0" y1="27.4" x2="851.0" y2="892.8"/>
</g>
<g stroke="#000" stroke-width="3" stroke-linecap="butt">
<line x1="140" y1="892.0" x2="157.5" y2="892.0"/>
<line x1="148" y1="785.0" x2="157.5" y2="785.0"/>
<line x1="140" y1="678.0" x2="157.5" y2="678.0"/>
<line x1="148" y1="571.0" x2="157.5" y2="571.0"/>
<line x1="140" y1="464.0" x2="157.5" y2="464.0"/>
<line x1="148" y1="357.0" x2="157.5" y2="357.0"/>
<line x1="140" y1="250.0" x2="157.5" y2="250.0"/>
<line x1="148" y1="143.0" x2="157.5" y2="143.0"/>
<line x1="140" y1="36.0" x2="157.5" y2="36.0"/>
<line x1="174.8" y1="892.8" x2="174.8" y2="902"/>
<line x1="261.6" y1="892.8" x2="261.6" y2="910"/>
<line x1="348.4" y1="892.8" x2="348.4" y2="902"/>
<line x1="435.1" y1="892.8" x2="435.1" y2="910"/>
<line x1="521.9" y1="892.8" x2="521.9" y2="902"/>
<line x1="608.6" y1="892.8" x2="608.6" y2="910"/>
<line x1="695.4" y1="892.8" x2="695.4" y2="902"/>
<line x1="782.1" y1="892.8" x2="782.1" y2="910"/>
<line x1="868.4" y1="892.8" x2="868.4" y2="902"/>
<line x1="955.1" y1="892.8" x2="955.1" y2="910"/>
<line x1="1041.8" y1="892.8" x2="1041.8" y2="902"/>
<line x1="1128.6" y1="892.8" x2="1128.6" y2="910"/>
</g>
<g font-family="Liberation Serif, Times New Roman, serif" font-size="45" fill="#000">
<text x="131.2" y="904.5" text-anchor="end">0.00</text>
<text x="131.2" y="690.5" text-anchor="end">0.25</text>
<text x="131.2" y="476.5" text-anchor="end">0.50</text>
<text x="131.2" y="262.5" text-anchor="end">0.75</text>
<text x="131.2" y="48.5" text-anchor="end">1.00</text>
<text x="261.6" y="954.5" text-anchor="middle">0.592</text>
<text x="435.1" y="954.5" text-anchor="middle">0.587</text>
<text x="608.6" y="954.5" text-anchor="middle">0.592</text>
<text x="782.1" y="954.5" text-anchor="middle">0.587</text>
<text x="955.1" y="954.5" text-anchor="middle">0.592</text>
<text x="1128.6" y="954.5" text-anchor="middle">0.587</text>
</g>
<g fill="#000">
<text transform="translate(379.20 91.70) scale(1.070 1)" font-family="Liberation Serif, Times New Roman, serif" font-style="italic" font-size="53.04">k</text>
<text transform="translate(413.80 87.82) scale(1.383 1)" font-family="Liberation Serif, Times New Roman, serif" font-size="42.00">=</text>
<text transform="translate(457.25 91.75) scale(0.947 1)" font-family="Liberation Serif, Times New Roman, serif" font-size="54.55">9</text>
<text transform="translate(695.39 99.00) scale(1.098 1)" font-family="Liberation Serif, Times New Roman, serif" font-style="italic" font-size="51.88">k</text>
<text transform="translate(730.07 96.51) scale(1.306 1)" font-family="Liberation Serif, Times New Roman, serif" font-size="44.80">=</text>
<text transform="translate(775.24 98.60) scale(0.920 1)" font-family="Liberation Serif, Times New Roman, serif" font-size="52.58">11</text>
<text transform="translate(1041.48 97.10) scale(1.090 1)" font-family="Liberation Serif, Times New Roman, serif" font-style="italic" font-size="52.46">k</text>
<text transform="translate(1075.64 94.39) scale(1.309 1)" font-family="Liberation Serif, Times New Roman, serif" font-size="45.20">=</text>
<text transform="translate(1121.15 96.57) scale(0.894 1)" font-family="Liberation Serif, Times New Roman, serif" font-size="52.84">13</text>
<text transform="translate(668.23 1004.68) scale(1.235 1)" font-family="Liberation Serif, Times New Roman, serif" font-style="italic" font-size="82.11">&#952;</text>
<text transform="translate(3.40 376.80) scale(0.984 1)" font-family="Liberation Serif, Times New Roman, serif" font-style="italic" font-size="92.46">R</text>
<text transform="translate(58.93 327.60) scale(1.172 1)" font-family="Liberation Serif, Times New Roman, serif" font-style="italic" font-size="54.77">X</text>
<text transform="translate(59.57 411.60) scale(1.069 1)" font-family="Liberation Serif, Times New Roman, serif" font-style="italic" font-size="53.77">L,k</text>
</g>
<g fill="none" stroke="#000" stroke-width="2.5">
<ellipse cx="336.8" cy="323" rx="24.05" ry="26.15"/>
<ellipse cx="336.6" cy="472.6" rx="24.25" ry="26.25"/>
<ellipse cx="335.7" cy="622.3" rx="24.25" ry="26.25"/>
<ellipse cx="647.5" cy="316.5" rx="24.25" ry="26.05"/>
<ellipse cx="648" cy="468.5" rx="23.95" ry="26.15"/>
<ellipse cx="649.7" cy="633.8" rx="24.05" ry="25.85"/>
<ellipse cx="1022.7" cy="315.3" rx="24.25" ry="26.35"/>
<ellipse cx="1022.6" cy="451.2" rx="23.95" ry="25.95"/>
<ellipse cx="1023" cy="607.5" rx="24.05" ry="26.05"/>
</g>
<g stroke="#000" stroke-width="2.8" fill="#000">
<line x1="355.2" y1="302.3" x2="390.6" y2="255.9" fill="none"/>
<path d="M400.3 243.2L391.5 264.5L390.0 256.7L382.1 257.3z" stroke-width="1" stroke-linejoin="round"/>
<line x1="316.6" y1="486.7" x2="240.8" y2="543.1" fill="none"/>
<path d="M228.0 552.7L242.4 534.6L241.6 542.5L249.4 544.1z" stroke-width="1" stroke-linejoin="round"/>
<line x1="316.9" y1="642.1" x2="293.7" y2="671.1" fill="none"/>
<path d="M283.7 683.6L293.0 662.5L294.3 670.3L302.2 669.9z" stroke-width="1" stroke-linejoin="round"/>
<line x1="667.3" y1="294.7" x2="703.9" y2="247.8" fill="none"/>
<path d="M713.7 235.2L704.6 256.4L703.2 248.6L695.3 249.2z" stroke-width="1" stroke-linejoin="round"/>
<line x1="625.9" y1="486.2" x2="565.4" y2="552.7" fill="none"/>
<path d="M554.6 564.5L565.3 544.0L566.0 551.9L574.0 552.0z" stroke-width="1" stroke-linejoin="round"/>
<line x1="630.4" y1="654.9" x2="607.4" y2="683.1" fill="none"/>
<path d="M597.3 695.5L606.8 674.5L608.0 682.3L616.0 681.9z" stroke-width="1" stroke-linejoin="round"/>
<line x1="1036.6" y1="290.4" x2="1071.7" y2="245.3" fill="none"/>
<path d="M1081.5 232.7L1072.5 253.9L1071.1 246.1L1063.1 246.7z" stroke-width="1" stroke-linejoin="round"/>
<line x1="1000.4" y1="466.8" x2="950.7" y2="500.7" fill="none"/>
<path d="M937.5 509.7L952.6 492.3L951.5 500.1L959.2 502.0z" stroke-width="1" stroke-linejoin="round"/>
<line x1="1001" y1="617" x2="963.3" y2="633.8" fill="none"/>
<path d="M948.7 640.3L966.7 625.8L964.2 633.4L971.5 636.6z" stroke-width="1" stroke-linejoin="round"/>
</g>
<g fill="#000">
<text transform="translate(401.98 236.52) scale(1.020 1)" font-family="Liberation Serif, Times New Roman, serif" font-style="italic" font-size="48.18">U</text>
<text transform="translate(199.94 573.39) scale(0.871 1)" font-family="Liberation Serif, Times New Roman, serif" font-style="italic" font-size="49.08">A</text>
<text transform="translate(257.20 707.00) scale(1.141 1)" font-family="Liberation Serif, Times New Roman, serif" font-style="italic" font-size="48.31">I</text>
<text transform="translate(716.92 228.61) scale(0.986 1)" font-family="Liberation Serif, Times New Roman, serif" font-style="italic" font-size="49.39">U</text>
<text transform="translate(523.61 593.00) scale(0.850 1)" font-family="Liberation Serif, Times New Roman, serif" font-style="italic" font-size="49.54">A</text>
<text transform="translate(576.80 713.60) scale(1.196 1)" font-family="Liberation Serif, Times New Roman, serif" font-style="italic" font-size="46.31">I</text>
<text transform="translate(1083.57 234.50) scale(0.986 1)" font-family="Liberation Serif, Times New Roman, serif" font-style="italic" font-size="50.00">U</text>
<text transform="translate(902.53 534.78) scale(0.843 1)" font-family="Liberation Serif, Times New Roman, serif" font-style="italic" font-size="48.15">A</text>
<text transform="translate(931.00 650.60) scale(0.989 1)" font-family="Liberation Serif, Times New Roman, serif" font-style="italic" font-size="47.85">I</text>
</g>
</svg></body></html>
